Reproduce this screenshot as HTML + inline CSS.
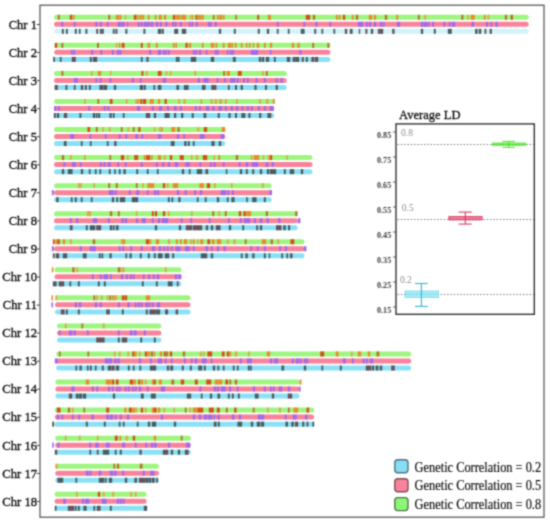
<!DOCTYPE html>
<html><head><meta charset="utf-8"><title>Chromosome LD</title>
<style>
html,body{margin:0;padding:0;background:#fff;width:550px;height:523px;overflow:hidden}
svg{display:block}
text{font-family:"Liberation Serif","Times New Roman",serif}
.lab{font-size:13.5px;fill:#111;stroke:#111;stroke-width:0.35px}
.title{font-size:13.5px;fill:#111;stroke:#111;stroke-width:0.3px}
.tick{font-size:8.1px;font-weight:bold;fill:#3a3a3a}
.vl{font-size:9.6px;fill:#8e8e8e}
.leg{font-size:13.75px;fill:#111;stroke:#111;stroke-width:0.2px}
</style></head><body>
<svg width="550" height="523" viewBox="0 0 550 523"><defs><filter id="bl" x="0" y="0" width="550" height="523" filterUnits="userSpaceOnUse" color-interpolation-filters="sRGB"><feConvolveMatrix order="3" kernelMatrix="0.0400 0.1200 0.0400 0.1200 0.3600 0.1200 0.0400 0.1200 0.0400" divisor="1" edgeMode="duplicate"/></filter></defs><g filter="url(#bl)"><rect x="0" y="0" width="550" height="523" fill="#fff"/><rect x="40" y="5.2" width="504" height="512" fill="none" stroke="#505050" stroke-width="1.2"/><text transform="translate(37.0,28.6) scale(0.935,1)" class="lab" text-anchor="end">Chr 1</text><line x1="36.6" x2="40" y1="24.5" y2="24.5" stroke="#4a4a4a" stroke-width="1"/><rect x="54" y="14.80" width="474.7" height="5.0" rx="2.5" fill="#9ef67f"/><rect x="57.80" y="14.80" width="2.00" height="5.0" fill="#b87230"/><rect x="69.80" y="14.80" width="2.40" height="5.0" fill="#d2501a"/><rect x="72.80" y="14.80" width="1.80" height="5.0" fill="#e58d2c"/><rect x="108.20" y="14.80" width="2.00" height="5.0" fill="#b87230"/><rect x="115.80" y="14.80" width="3.40" height="5.0" fill="#e58d2c"/><rect x="119.40" y="14.80" width="2.00" height="5.0" fill="#e58d2c"/><rect x="124.80" y="14.80" width="1.40" height="5.0" fill="#dca850"/><rect x="133.80" y="14.80" width="2.40" height="5.0" fill="#d2501a"/><rect x="136.20" y="14.80" width="2.00" height="5.0" fill="#e58d2c"/><rect x="138.80" y="14.80" width="1.80" height="5.0" fill="#e58d2c"/><rect x="140.80" y="14.80" width="1.80" height="5.0" fill="#e58d2c"/><rect x="142.80" y="14.80" width="1.40" height="5.0" fill="#e58d2c"/><rect x="147.80" y="14.80" width="1.80" height="5.0" fill="#e58d2c"/><rect x="154.80" y="14.80" width="1.80" height="5.0" fill="#e58d2c"/><rect x="158.80" y="14.80" width="1.40" height="5.0" fill="#e58d2c"/><rect x="159.80" y="14.80" width="2.00" height="5.0" fill="#e58d2c"/><rect x="163.80" y="14.80" width="2.40" height="5.0" fill="#e58d2c"/><rect x="172.80" y="14.80" width="2.40" height="5.0" fill="#d2501a"/><rect x="175.40" y="14.80" width="4.80" height="5.0" fill="#e58d2c"/><rect x="180.80" y="14.80" width="5.40" height="5.0" fill="#e58d2c"/><rect x="189.80" y="14.80" width="1.40" height="5.0" fill="#dca850"/><rect x="191.80" y="14.80" width="1.40" height="5.0" fill="#e58d2c"/><rect x="195.40" y="14.80" width="1.80" height="5.0" fill="#d2501a"/><rect x="197.40" y="14.80" width="3.80" height="5.0" fill="#e58d2c"/><rect x="201.40" y="14.80" width="2.40" height="5.0" fill="#e58d2c"/><rect x="212.80" y="14.80" width="1.80" height="5.0" fill="#b87230"/><rect x="216.80" y="14.80" width="1.80" height="5.0" fill="#e58d2c"/><rect x="219.20" y="14.80" width="3.00" height="5.0" fill="#e58d2c"/><rect x="222.80" y="14.80" width="1.80" height="5.0" fill="#e58d2c"/><rect x="235.40" y="14.80" width="1.60" height="5.0" fill="#b87230"/><rect x="257.20" y="14.80" width="2.00" height="5.0" fill="#d2501a"/><rect x="267.80" y="14.80" width="2.40" height="5.0" fill="#e58d2c"/><rect x="269.80" y="14.80" width="1.20" height="5.0" fill="#e58d2c"/><rect x="305.80" y="14.80" width="4.40" height="5.0" fill="#d2501a"/><rect x="312.80" y="14.80" width="2.40" height="5.0" fill="#b87230"/><rect x="335.80" y="14.80" width="2.00" height="5.0" fill="#e58d2c"/><rect x="338.80" y="14.80" width="1.80" height="5.0" fill="#e58d2c"/><rect x="342.80" y="14.80" width="2.40" height="5.0" fill="#d2501a"/><rect x="351.80" y="14.80" width="1.80" height="5.0" fill="#e58d2c"/><rect x="355.80" y="14.80" width="2.40" height="5.0" fill="#b87230"/><rect x="368.80" y="14.80" width="3.40" height="5.0" fill="#e58d2c"/><rect x="373.80" y="14.80" width="2.40" height="5.0" fill="#e58d2c"/><rect x="384.80" y="14.80" width="2.40" height="5.0" fill="#b87230"/><rect x="396.20" y="14.80" width="2.00" height="5.0" fill="#e58d2c"/><rect x="417.80" y="14.80" width="2.00" height="5.0" fill="#b87230"/><rect x="424.20" y="14.80" width="2.00" height="5.0" fill="#dca850"/><rect x="461.25" y="14.80" width="2.15" height="5.0" fill="#b87230"/><rect x="467.07" y="14.80" width="1.85" height="5.0" fill="#dca850"/><rect x="470.71" y="14.80" width="4.04" height="5.0" fill="#e58d2c"/><rect x="483.80" y="14.80" width="1.85" height="5.0" fill="#e58d2c"/><rect x="487.44" y="14.80" width="1.85" height="5.0" fill="#dca850"/><rect x="504.89" y="14.80" width="2.15" height="5.0" fill="#b87230"/><rect x="510.71" y="14.80" width="2.15" height="5.0" fill="#d2501a"/><rect x="54" y="21.80" width="474.7" height="5.0" rx="2.5" fill="#fa829a"/><rect x="61.20" y="21.80" width="2.00" height="5.0" fill="#9c6cee"/><rect x="73.80" y="21.80" width="1.80" height="5.0" fill="#9c6cee"/><rect x="95.40" y="21.80" width="2.00" height="5.0" fill="#9c6cee"/><rect x="99.80" y="21.80" width="2.00" height="5.0" fill="#9c6cee"/><rect x="106.80" y="21.80" width="1.80" height="5.0" fill="#9c6cee"/><rect x="117.80" y="21.80" width="2.40" height="5.0" fill="#9c6cee"/><rect x="120.20" y="21.80" width="2.40" height="5.0" fill="#9c6cee"/><rect x="122.80" y="21.80" width="1.80" height="5.0" fill="#9c6cee"/><rect x="126.80" y="21.80" width="1.40" height="5.0" fill="#9c6cee"/><rect x="137.80" y="21.80" width="1.80" height="5.0" fill="#9c6cee"/><rect x="140.80" y="21.80" width="1.80" height="5.0" fill="#9c6cee"/><rect x="143.80" y="21.80" width="2.00" height="5.0" fill="#9c6cee"/><rect x="145.80" y="21.80" width="2.40" height="5.0" fill="#9c6cee"/><rect x="148.40" y="21.80" width="1.80" height="5.0" fill="#9c6cee"/><rect x="150.80" y="21.80" width="2.40" height="5.0" fill="#9c6cee"/><rect x="155.80" y="21.80" width="2.40" height="5.0" fill="#9c6cee"/><rect x="159.80" y="21.80" width="2.00" height="5.0" fill="#9c6cee"/><rect x="165.40" y="21.80" width="2.00" height="5.0" fill="#9c6cee"/><rect x="172.20" y="21.80" width="2.00" height="5.0" fill="#9c6cee"/><rect x="174.80" y="21.80" width="1.80" height="5.0" fill="#9c6cee"/><rect x="179.80" y="21.80" width="2.00" height="5.0" fill="#9c6cee"/><rect x="188.80" y="21.80" width="1.80" height="5.0" fill="#9c6cee"/><rect x="191.40" y="21.80" width="1.80" height="5.0" fill="#9c6cee"/><rect x="195.80" y="21.80" width="2.00" height="5.0" fill="#9c6cee"/><rect x="207.80" y="21.80" width="2.00" height="5.0" fill="#9c6cee"/><rect x="210.20" y="21.80" width="1.60" height="5.0" fill="#9c6cee"/><rect x="214.80" y="21.80" width="2.00" height="5.0" fill="#9c6cee"/><rect x="276.80" y="21.80" width="1.80" height="5.0" fill="#9c6cee"/><rect x="303.40" y="21.80" width="1.80" height="5.0" fill="#9c6cee"/><rect x="315.40" y="21.80" width="2.00" height="5.0" fill="#9c6cee"/><rect x="329.40" y="21.80" width="1.80" height="5.0" fill="#9c6cee"/><rect x="357.80" y="21.80" width="5.40" height="5.0" fill="#9c6cee"/><rect x="365.80" y="21.80" width="2.00" height="5.0" fill="#9c6cee"/><rect x="368.80" y="21.80" width="2.40" height="5.0" fill="#9c6cee"/><rect x="373.80" y="21.80" width="2.40" height="5.0" fill="#9c6cee"/><rect x="379.80" y="21.80" width="2.40" height="5.0" fill="#9c6cee"/><rect x="382.80" y="21.80" width="1.80" height="5.0" fill="#9c6cee"/><rect x="396.80" y="21.80" width="3.40" height="5.0" fill="#9c6cee"/><rect x="420.80" y="21.80" width="2.40" height="5.0" fill="#9c6cee"/><rect x="423.40" y="21.80" width="3.80" height="5.0" fill="#9c6cee"/><rect x="427.80" y="21.80" width="1.80" height="5.0" fill="#9c6cee"/><rect x="432.20" y="21.80" width="2.00" height="5.0" fill="#9c6cee"/><rect x="443.40" y="21.80" width="1.80" height="5.0" fill="#9c6cee"/><rect x="448.80" y="21.80" width="1.80" height="5.0" fill="#9c6cee"/><rect x="451.80" y="21.80" width="3.40" height="5.0" fill="#9c6cee"/><rect x="471.44" y="21.80" width="2.58" height="5.0" fill="#9c6cee"/><rect x="485.98" y="21.80" width="2.15" height="5.0" fill="#9c6cee"/><rect x="490.35" y="21.80" width="1.85" height="5.0" fill="#9c6cee"/><rect x="495.44" y="21.80" width="2.29" height="5.0" fill="#9c6cee"/><rect x="54" y="28.85" width="474.7" height="5.0" rx="2.5" fill="#d3f2fa"/><rect x="61.80" y="28.85" width="2.00" height="5.0" fill="#4e5c60"/><rect x="65.80" y="28.85" width="2.00" height="5.0" fill="#4e5c60"/><rect x="74.80" y="28.85" width="2.00" height="5.0" fill="#4e5c60"/><rect x="78.80" y="28.85" width="1.80" height="5.0" fill="#4e5c60"/><rect x="85.40" y="28.85" width="2.00" height="5.0" fill="#4e5c60"/><rect x="96.20" y="28.85" width="2.00" height="5.0" fill="#6a5058"/><rect x="99.80" y="28.85" width="2.00" height="5.0" fill="#4e5c60"/><rect x="101.80" y="28.85" width="2.00" height="5.0" fill="#4e5c60"/><rect x="112.80" y="28.85" width="1.80" height="5.0" fill="#4e5c60"/><rect x="115.40" y="28.85" width="2.00" height="5.0" fill="#4e5c60"/><rect x="125.40" y="28.85" width="2.00" height="5.0" fill="#4e5c60"/><rect x="143.40" y="28.85" width="2.00" height="5.0" fill="#4e5c60"/><rect x="157.80" y="28.85" width="2.40" height="5.0" fill="#4e5c60"/><rect x="159.80" y="28.85" width="1.60" height="5.0" fill="#4e5c60"/><rect x="161.80" y="28.85" width="2.00" height="5.0" fill="#4e5c60"/><rect x="174.20" y="28.85" width="4.00" height="5.0" fill="#4e5c60"/><rect x="181.80" y="28.85" width="4.40" height="5.0" fill="#4e5c60"/><rect x="218.80" y="28.85" width="2.40" height="5.0" fill="#4e5c60"/><rect x="233.80" y="28.85" width="2.00" height="5.0" fill="#4e5c60"/><rect x="257.80" y="28.85" width="2.00" height="5.0" fill="#4e5c60"/><rect x="266.80" y="28.85" width="2.40" height="5.0" fill="#4e5c60"/><rect x="276.80" y="28.85" width="1.80" height="5.0" fill="#4e5c60"/><rect x="287.80" y="28.85" width="1.80" height="5.0" fill="#4e5c60"/><rect x="300.80" y="28.85" width="3.80" height="5.0" fill="#4e5c60"/><rect x="314.20" y="28.85" width="2.00" height="5.0" fill="#4e5c60"/><rect x="321.40" y="28.85" width="1.80" height="5.0" fill="#4e5c60"/><rect x="333.40" y="28.85" width="1.80" height="5.0" fill="#4e5c60"/><rect x="344.80" y="28.85" width="2.40" height="5.0" fill="#6a5058"/><rect x="349.80" y="28.85" width="2.80" height="5.0" fill="#4e5c60"/><rect x="358.80" y="28.85" width="1.40" height="5.0" fill="#4e5c60"/><rect x="365.40" y="28.85" width="2.00" height="5.0" fill="#6a5058"/><rect x="370.80" y="28.85" width="2.40" height="5.0" fill="#4e5c60"/><rect x="377.80" y="28.85" width="2.00" height="5.0" fill="#6a5058"/><rect x="379.80" y="28.85" width="3.40" height="5.0" fill="#6a5058"/><rect x="392.20" y="28.85" width="2.40" height="5.0" fill="#6a5058"/><rect x="420.80" y="28.85" width="2.40" height="5.0" fill="#4e5c60"/><rect x="433.80" y="28.85" width="2.00" height="5.0" fill="#4e5c60"/><rect x="447.80" y="28.85" width="4.00" height="5.0" fill="#4e5c60"/><rect x="475.07" y="28.85" width="2.58" height="5.0" fill="#4e5c60"/><rect x="478.71" y="28.85" width="2.58" height="5.0" fill="#4e5c60"/><rect x="484.53" y="28.85" width="1.85" height="5.0" fill="#4e5c60"/><rect x="489.62" y="28.85" width="2.29" height="5.0" fill="#6a5058"/><text transform="translate(37.0,56.7) scale(0.935,1)" class="lab" text-anchor="end">Chr 2</text><line x1="36.6" x2="40" y1="52.6" y2="52.6" stroke="#4a4a4a" stroke-width="1"/><rect x="54.3" y="42.86" width="276.1" height="5.0" rx="2.5" fill="#9ef67f"/><rect x="54.80" y="42.86" width="2.40" height="5.0" fill="#d2501a"/><rect x="61.40" y="42.86" width="2.00" height="5.0" fill="#b87230"/><rect x="97.00" y="42.86" width="2.00" height="5.0" fill="#b87230"/><rect x="115.80" y="42.86" width="1.60" height="5.0" fill="#dca850"/><rect x="118.80" y="42.86" width="1.80" height="5.0" fill="#e58d2c"/><rect x="121.80" y="42.86" width="2.80" height="5.0" fill="#d2501a"/><rect x="140.80" y="42.86" width="2.00" height="5.0" fill="#d2501a"/><rect x="147.40" y="42.86" width="1.40" height="5.0" fill="#e58d2c"/><rect x="148.80" y="42.86" width="1.40" height="5.0" fill="#e58d2c"/><rect x="155.80" y="42.86" width="2.00" height="5.0" fill="#e58d2c"/><rect x="172.80" y="42.86" width="1.80" height="5.0" fill="#e58d2c"/><rect x="175.40" y="42.86" width="1.60" height="5.0" fill="#e58d2c"/><rect x="185.40" y="42.86" width="2.40" height="5.0" fill="#d2501a"/><rect x="188.80" y="42.86" width="2.40" height="5.0" fill="#e58d2c"/><rect x="201.80" y="42.86" width="1.80" height="5.0" fill="#e58d2c"/><rect x="210.80" y="42.86" width="3.40" height="5.0" fill="#e58d2c"/><rect x="215.40" y="42.86" width="1.80" height="5.0" fill="#e58d2c"/><rect x="222.80" y="42.86" width="1.80" height="5.0" fill="#e58d2c"/><rect x="227.80" y="42.86" width="3.40" height="5.0" fill="#e58d2c"/><rect x="231.40" y="42.86" width="1.80" height="5.0" fill="#e58d2c"/><rect x="234.80" y="42.86" width="1.80" height="5.0" fill="#e58d2c"/><rect x="240.80" y="42.86" width="1.80" height="5.0" fill="#e58d2c"/><rect x="245.80" y="42.86" width="1.60" height="5.0" fill="#e58d2c"/><rect x="248.80" y="42.86" width="1.80" height="5.0" fill="#e58d2c"/><rect x="252.80" y="42.86" width="1.40" height="5.0" fill="#e58d2c"/><rect x="256.80" y="42.86" width="2.40" height="5.0" fill="#e58d2c"/><rect x="263.80" y="42.86" width="2.00" height="5.0" fill="#e58d2c"/><rect x="269.80" y="42.86" width="2.40" height="5.0" fill="#e58d2c"/><rect x="291.80" y="42.86" width="2.40" height="5.0" fill="#e58d2c"/><rect x="297.40" y="42.86" width="2.40" height="5.0" fill="#e58d2c"/><rect x="312.20" y="42.86" width="2.00" height="5.0" fill="#b87230"/><rect x="327.40" y="42.86" width="2.00" height="5.0" fill="#b87230"/><rect x="54.3" y="49.86" width="276.1" height="5.0" rx="2.5" fill="#fa829a"/><rect x="70.80" y="49.86" width="1.80" height="5.0" fill="#9c6cee"/><rect x="73.40" y="49.86" width="1.80" height="5.0" fill="#9c6cee"/><rect x="91.20" y="49.86" width="2.00" height="5.0" fill="#9c6cee"/><rect x="100.40" y="49.86" width="1.80" height="5.0" fill="#9c6cee"/><rect x="111.80" y="49.86" width="2.00" height="5.0" fill="#9c6cee"/><rect x="116.80" y="49.86" width="2.40" height="5.0" fill="#9c6cee"/><rect x="119.40" y="49.86" width="2.00" height="5.0" fill="#9c6cee"/><rect x="149.20" y="49.86" width="2.00" height="5.0" fill="#9c6cee"/><rect x="157.80" y="49.86" width="2.40" height="5.0" fill="#9c6cee"/><rect x="159.80" y="49.86" width="1.40" height="5.0" fill="#9c6cee"/><rect x="162.80" y="49.86" width="1.80" height="5.0" fill="#9c6cee"/><rect x="164.80" y="49.86" width="1.80" height="5.0" fill="#9c6cee"/><rect x="167.80" y="49.86" width="2.00" height="5.0" fill="#9c6cee"/><rect x="192.80" y="49.86" width="1.80" height="5.0" fill="#9c6cee"/><rect x="195.40" y="49.86" width="1.80" height="5.0" fill="#9c6cee"/><rect x="198.80" y="49.86" width="2.40" height="5.0" fill="#9c6cee"/><rect x="205.80" y="49.86" width="1.60" height="5.0" fill="#9c6cee"/><rect x="214.80" y="49.86" width="1.80" height="5.0" fill="#9c6cee"/><rect x="216.80" y="49.86" width="1.80" height="5.0" fill="#9c6cee"/><rect x="226.80" y="49.86" width="1.80" height="5.0" fill="#9c6cee"/><rect x="229.80" y="49.86" width="2.00" height="5.0" fill="#9c6cee"/><rect x="232.20" y="49.86" width="2.00" height="5.0" fill="#9c6cee"/><rect x="250.80" y="49.86" width="7.40" height="5.0" fill="#9c6cee"/><rect x="269.80" y="49.86" width="1.60" height="5.0" fill="#9c6cee"/><rect x="299.40" y="49.86" width="2.00" height="5.0" fill="#9c6cee"/><rect x="54.3" y="56.91" width="276.1" height="5.0" rx="2.5" fill="#8ae1f6"/><rect x="53.20" y="56.91" width="1.80" height="5.0" fill="#4e5c60"/><rect x="59.80" y="56.91" width="1.80" height="5.0" fill="#4e5c60"/><rect x="71.80" y="56.91" width="4.00" height="5.0" fill="#6a5058"/><rect x="89.80" y="56.91" width="2.00" height="5.0" fill="#4e5c60"/><rect x="92.80" y="56.91" width="4.40" height="5.0" fill="#6a5058"/><rect x="140.80" y="56.91" width="1.80" height="5.0" fill="#4e5c60"/><rect x="146.40" y="56.91" width="2.20" height="5.0" fill="#6a5058"/><rect x="175.80" y="56.91" width="2.00" height="5.0" fill="#4e5c60"/><rect x="177.80" y="56.91" width="1.80" height="5.0" fill="#4e5c60"/><rect x="190.80" y="56.91" width="5.40" height="5.0" fill="#4e5c60"/><rect x="210.80" y="56.91" width="3.40" height="5.0" fill="#4e5c60"/><rect x="232.80" y="56.91" width="3.00" height="5.0" fill="#4e5c60"/><rect x="258.80" y="56.91" width="2.40" height="5.0" fill="#4e5c60"/><rect x="261.80" y="56.91" width="2.40" height="5.0" fill="#4e5c60"/><rect x="265.80" y="56.91" width="3.40" height="5.0" fill="#4e5c60"/><rect x="273.80" y="56.91" width="2.00" height="5.0" fill="#4e5c60"/><rect x="286.80" y="56.91" width="3.40" height="5.0" fill="#4e5c60"/><rect x="292.80" y="56.91" width="3.00" height="5.0" fill="#4e5c60"/><rect x="295.80" y="56.91" width="3.40" height="5.0" fill="#4e5c60"/><rect x="301.80" y="56.91" width="2.00" height="5.0" fill="#4e5c60"/><rect x="305.80" y="56.91" width="2.00" height="5.0" fill="#4e5c60"/><rect x="311.40" y="56.91" width="2.80" height="5.0" fill="#6a5058"/><rect x="314.80" y="56.91" width="3.40" height="5.0" fill="#6a5058"/><text transform="translate(37.0,84.7) scale(0.935,1)" class="lab" text-anchor="end">Chr 3</text><line x1="36.6" x2="40" y1="80.6" y2="80.6" stroke="#4a4a4a" stroke-width="1"/><rect x="54" y="70.91" width="232.7" height="5.0" rx="2.5" fill="#9ef67f"/><rect x="61.40" y="70.91" width="2.00" height="5.0" fill="#b87230"/><rect x="90.80" y="70.91" width="1.80" height="5.0" fill="#dca850"/><rect x="97.80" y="70.91" width="3.40" height="5.0" fill="#e58d2c"/><rect x="109.80" y="70.91" width="1.60" height="5.0" fill="#dca850"/><rect x="141.40" y="70.91" width="2.00" height="5.0" fill="#d2501a"/><rect x="145.80" y="70.91" width="1.80" height="5.0" fill="#dca850"/><rect x="157.80" y="70.91" width="2.40" height="5.0" fill="#d2501a"/><rect x="159.80" y="70.91" width="1.82" height="5.0" fill="#d2501a"/><rect x="165.71" y="70.91" width="1.58" height="5.0" fill="#dca850"/><rect x="169.73" y="70.91" width="1.82" height="5.0" fill="#dca850"/><rect x="194.07" y="70.91" width="2.05" height="5.0" fill="#dca850"/><rect x="223.15" y="70.91" width="1.82" height="5.0" fill="#b87230"/><rect x="226.45" y="70.91" width="3.47" height="5.0" fill="#e58d2c"/><rect x="237.80" y="70.91" width="3.95" height="5.0" fill="#d2501a"/><rect x="261.91" y="70.91" width="1.82" height="5.0" fill="#dca850"/><rect x="265.69" y="70.91" width="2.05" height="5.0" fill="#b87230"/><rect x="54" y="77.91" width="232.7" height="5.0" rx="2.5" fill="#fa829a"/><rect x="73.80" y="77.91" width="4.00" height="5.0" fill="#9c6cee"/><rect x="95.40" y="77.91" width="1.80" height="5.0" fill="#9c6cee"/><rect x="99.80" y="77.91" width="1.80" height="5.0" fill="#9c6cee"/><rect x="109.40" y="77.91" width="2.00" height="5.0" fill="#9c6cee"/><rect x="131.80" y="77.91" width="2.00" height="5.0" fill="#9c6cee"/><rect x="139.80" y="77.91" width="1.80" height="5.0" fill="#9c6cee"/><rect x="162.64" y="77.91" width="3.47" height="5.0" fill="#9c6cee"/><rect x="197.62" y="77.91" width="2.29" height="5.0" fill="#9c6cee"/><rect x="203.53" y="77.91" width="5.13" height="5.0" fill="#9c6cee"/><rect x="216.53" y="77.91" width="1.82" height="5.0" fill="#9c6cee"/><rect x="224.09" y="77.91" width="1.82" height="5.0" fill="#9c6cee"/><rect x="230.24" y="77.91" width="5.13" height="5.0" fill="#9c6cee"/><rect x="236.62" y="77.91" width="2.05" height="5.0" fill="#9c6cee"/><rect x="243.00" y="77.91" width="1.82" height="5.0" fill="#9c6cee"/><rect x="246.78" y="77.91" width="2.05" height="5.0" fill="#9c6cee"/><rect x="255.53" y="77.91" width="2.05" height="5.0" fill="#9c6cee"/><rect x="263.80" y="77.91" width="2.05" height="5.0" fill="#9c6cee"/><rect x="275.62" y="77.91" width="2.05" height="5.0" fill="#9c6cee"/><rect x="280.35" y="77.91" width="2.29" height="5.0" fill="#9c6cee"/><rect x="54" y="84.96" width="232.7" height="5.0" rx="2.5" fill="#8ae1f6"/><rect x="54.80" y="84.96" width="3.00" height="5.0" fill="#6a5058"/><rect x="65.40" y="84.96" width="2.00" height="5.0" fill="#4e5c60"/><rect x="73.80" y="84.96" width="1.80" height="5.0" fill="#4e5c60"/><rect x="80.80" y="84.96" width="2.40" height="5.0" fill="#6a5058"/><rect x="84.80" y="84.96" width="2.00" height="5.0" fill="#6a5058"/><rect x="88.80" y="84.96" width="2.00" height="5.0" fill="#4e5c60"/><rect x="99.40" y="84.96" width="3.80" height="5.0" fill="#4e5c60"/><rect x="103.40" y="84.96" width="3.80" height="5.0" fill="#4e5c60"/><rect x="113.80" y="84.96" width="2.40" height="5.0" fill="#4e5c60"/><rect x="139.80" y="84.96" width="3.40" height="5.0" fill="#4e5c60"/><rect x="143.80" y="84.96" width="2.00" height="5.0" fill="#4e5c60"/><rect x="153.40" y="84.96" width="1.80" height="5.0" fill="#4e5c60"/><rect x="157.80" y="84.96" width="2.40" height="5.0" fill="#4e5c60"/><rect x="159.80" y="84.96" width="1.58" height="5.0" fill="#4e5c60"/><rect x="176.35" y="84.96" width="2.76" height="5.0" fill="#4e5c60"/><rect x="183.91" y="84.96" width="4.65" height="5.0" fill="#4e5c60"/><rect x="201.87" y="84.96" width="3.71" height="5.0" fill="#4e5c60"/><rect x="211.33" y="84.96" width="5.13" height="5.0" fill="#6a5058"/><rect x="227.87" y="84.96" width="1.82" height="5.0" fill="#4e5c60"/><rect x="234.96" y="84.96" width="2.05" height="5.0" fill="#4e5c60"/><rect x="240.64" y="84.96" width="2.29" height="5.0" fill="#4e5c60"/><rect x="254.35" y="84.96" width="2.29" height="5.0" fill="#4e5c60"/><rect x="264.98" y="84.96" width="2.05" height="5.0" fill="#4e5c60"/><rect x="275.62" y="84.96" width="2.29" height="5.0" fill="#4e5c60"/><text transform="translate(37.0,112.8) scale(0.935,1)" class="lab" text-anchor="end">Chr 4</text><line x1="36.6" x2="40" y1="108.7" y2="108.7" stroke="#4a4a4a" stroke-width="1"/><rect x="54" y="98.97" width="220.2" height="5.0" rx="2.5" fill="#9ef67f"/><rect x="84.20" y="98.97" width="1.60" height="5.0" fill="#dca850"/><rect x="97.40" y="98.97" width="1.80" height="5.0" fill="#b87230"/><rect x="109.80" y="98.97" width="2.80" height="5.0" fill="#d2501a"/><rect x="125.80" y="98.97" width="1.60" height="5.0" fill="#dca850"/><rect x="135.40" y="98.97" width="1.80" height="5.0" fill="#dca850"/><rect x="137.40" y="98.97" width="1.80" height="5.0" fill="#e58d2c"/><rect x="140.20" y="98.97" width="2.00" height="5.0" fill="#d2501a"/><rect x="142.80" y="98.97" width="3.40" height="5.0" fill="#d2501a"/><rect x="149.80" y="98.97" width="4.00" height="5.0" fill="#e58d2c"/><rect x="157.80" y="98.97" width="2.40" height="5.0" fill="#e58d2c"/><rect x="164.53" y="98.97" width="2.29" height="5.0" fill="#d2501a"/><rect x="178.24" y="98.97" width="1.82" height="5.0" fill="#dca850"/><rect x="183.44" y="98.97" width="2.29" height="5.0" fill="#dca850"/><rect x="200.45" y="98.97" width="1.82" height="5.0" fill="#dca850"/><rect x="210.62" y="98.97" width="2.05" height="5.0" fill="#dca850"/><rect x="214.64" y="98.97" width="2.29" height="5.0" fill="#dca850"/><rect x="218.89" y="98.97" width="3.24" height="5.0" fill="#dca850"/><rect x="224.80" y="98.97" width="2.05" height="5.0" fill="#dca850"/><rect x="235.91" y="98.97" width="1.82" height="5.0" fill="#dca850"/><rect x="259.07" y="98.97" width="1.82" height="5.0" fill="#dca850"/><rect x="266.16" y="98.97" width="2.29" height="5.0" fill="#dca850"/><rect x="272.78" y="98.97" width="2.05" height="5.0" fill="#e58d2c"/><rect x="54" y="105.97" width="220.2" height="5.0" rx="2.5" fill="#fa829a"/><rect x="54.20" y="105.97" width="2.00" height="5.0" fill="#9c6cee"/><rect x="57.80" y="105.97" width="2.00" height="5.0" fill="#9c6cee"/><rect x="88.20" y="105.97" width="2.00" height="5.0" fill="#9c6cee"/><rect x="103.80" y="105.97" width="2.00" height="5.0" fill="#9c6cee"/><rect x="107.40" y="105.97" width="1.80" height="5.0" fill="#9c6cee"/><rect x="136.80" y="105.97" width="3.40" height="5.0" fill="#9c6cee"/><rect x="151.80" y="105.97" width="2.00" height="5.0" fill="#9c6cee"/><rect x="158.80" y="105.97" width="1.40" height="5.0" fill="#9c6cee"/><rect x="159.80" y="105.97" width="2.29" height="5.0" fill="#9c6cee"/><rect x="166.89" y="105.97" width="2.29" height="5.0" fill="#9c6cee"/><rect x="173.98" y="105.97" width="2.76" height="5.0" fill="#9c6cee"/><rect x="179.89" y="105.97" width="2.05" height="5.0" fill="#9c6cee"/><rect x="194.78" y="105.97" width="2.05" height="5.0" fill="#9c6cee"/><rect x="198.80" y="105.97" width="2.05" height="5.0" fill="#9c6cee"/><rect x="205.89" y="105.97" width="3.47" height="5.0" fill="#9c6cee"/><rect x="212.27" y="105.97" width="2.29" height="5.0" fill="#9c6cee"/><rect x="218.42" y="105.97" width="3.71" height="5.0" fill="#9c6cee"/><rect x="224.80" y="105.97" width="2.05" height="5.0" fill="#9c6cee"/><rect x="230.71" y="105.97" width="2.29" height="5.0" fill="#9c6cee"/><rect x="235.91" y="105.97" width="2.29" height="5.0" fill="#9c6cee"/><rect x="241.35" y="105.97" width="2.05" height="5.0" fill="#9c6cee"/><rect x="246.78" y="105.97" width="2.05" height="5.0" fill="#9c6cee"/><rect x="250.80" y="105.97" width="2.05" height="5.0" fill="#9c6cee"/><rect x="257.89" y="105.97" width="2.05" height="5.0" fill="#9c6cee"/><rect x="263.80" y="105.97" width="2.05" height="5.0" fill="#9c6cee"/><rect x="269.71" y="105.97" width="3.95" height="5.0" fill="#9c6cee"/><rect x="54" y="113.02" width="220.2" height="5.0" rx="2.5" fill="#8ae1f6"/><rect x="53.80" y="113.02" width="2.00" height="5.0" fill="#4e5c60"/><rect x="56.80" y="113.02" width="2.40" height="5.0" fill="#4e5c60"/><rect x="63.80" y="113.02" width="3.40" height="5.0" fill="#6a5058"/><rect x="79.40" y="113.02" width="2.00" height="5.0" fill="#4e5c60"/><rect x="92.80" y="113.02" width="2.40" height="5.0" fill="#4e5c60"/><rect x="95.80" y="113.02" width="1.80" height="5.0" fill="#4e5c60"/><rect x="98.20" y="113.02" width="2.00" height="5.0" fill="#4e5c60"/><rect x="109.40" y="113.02" width="2.40" height="5.0" fill="#4e5c60"/><rect x="112.80" y="113.02" width="1.80" height="5.0" fill="#4e5c60"/><rect x="122.80" y="113.02" width="1.80" height="5.0" fill="#4e5c60"/><rect x="145.80" y="113.02" width="4.40" height="5.0" fill="#6a5058"/><rect x="153.80" y="113.02" width="2.40" height="5.0" fill="#4e5c60"/><rect x="164.53" y="113.02" width="5.13" height="5.0" fill="#4e5c60"/><rect x="173.98" y="113.02" width="2.29" height="5.0" fill="#4e5c60"/><rect x="181.07" y="113.02" width="2.29" height="5.0" fill="#4e5c60"/><rect x="191.71" y="113.02" width="2.05" height="5.0" fill="#4e5c60"/><rect x="203.53" y="113.02" width="2.76" height="5.0" fill="#4e5c60"/><rect x="217.71" y="113.02" width="2.05" height="5.0" fill="#4e5c60"/><rect x="228.35" y="113.02" width="2.29" height="5.0" fill="#4e5c60"/><rect x="234.96" y="113.02" width="2.05" height="5.0" fill="#4e5c60"/><rect x="241.35" y="113.02" width="3.95" height="5.0" fill="#4e5c60"/><rect x="248.44" y="113.02" width="2.05" height="5.0" fill="#4e5c60"/><rect x="259.07" y="113.02" width="2.29" height="5.0" fill="#4e5c60"/><rect x="267.35" y="113.02" width="3.95" height="5.0" fill="#4e5c60"/><text transform="translate(37.0,140.8) scale(0.935,1)" class="lab" text-anchor="end">Chr 5</text><line x1="36.6" x2="40" y1="136.7" y2="136.7" stroke="#4a4a4a" stroke-width="1"/><rect x="54" y="127.03" width="171.3" height="5.0" rx="2.5" fill="#9ef67f"/><rect x="87.40" y="127.03" width="2.80" height="5.0" fill="#d2501a"/><rect x="95.80" y="127.03" width="2.00" height="5.0" fill="#b87230"/><rect x="102.20" y="127.03" width="1.60" height="5.0" fill="#dca850"/><rect x="108.80" y="127.03" width="1.80" height="5.0" fill="#dca850"/><rect x="120.80" y="127.03" width="1.80" height="5.0" fill="#b87230"/><rect x="127.40" y="127.03" width="1.80" height="5.0" fill="#dca850"/><rect x="132.80" y="127.03" width="1.80" height="5.0" fill="#b87230"/><rect x="138.20" y="127.03" width="2.40" height="5.0" fill="#d2501a"/><rect x="153.80" y="127.03" width="1.60" height="5.0" fill="#dca850"/><rect x="158.80" y="127.03" width="1.40" height="5.0" fill="#dca850"/><rect x="160.80" y="127.03" width="1.80" height="5.0" fill="#e58d2c"/><rect x="171.40" y="127.03" width="3.80" height="5.0" fill="#e58d2c"/><rect x="177.40" y="127.03" width="2.40" height="5.0" fill="#b87230"/><rect x="197.40" y="127.03" width="1.80" height="5.0" fill="#dca850"/><rect x="203.80" y="127.03" width="3.40" height="5.0" fill="#d2501a"/><rect x="221.80" y="127.03" width="3.40" height="5.0" fill="#e58d2c"/><rect x="54" y="134.03" width="171.3" height="5.0" rx="2.5" fill="#fa829a"/><rect x="70.20" y="134.03" width="4.00" height="5.0" fill="#9c6cee"/><rect x="89.40" y="134.03" width="1.80" height="5.0" fill="#9c6cee"/><rect x="104.80" y="134.03" width="1.80" height="5.0" fill="#9c6cee"/><rect x="118.80" y="134.03" width="1.80" height="5.0" fill="#9c6cee"/><rect x="125.40" y="134.03" width="1.80" height="5.0" fill="#9c6cee"/><rect x="135.40" y="134.03" width="2.80" height="5.0" fill="#9c6cee"/><rect x="141.40" y="134.03" width="1.80" height="5.0" fill="#9c6cee"/><rect x="157.80" y="134.03" width="2.00" height="5.0" fill="#9c6cee"/><rect x="159.80" y="134.03" width="1.60" height="5.0" fill="#9c6cee"/><rect x="176.80" y="134.03" width="2.40" height="5.0" fill="#9c6cee"/><rect x="183.40" y="134.03" width="1.80" height="5.0" fill="#9c6cee"/><rect x="199.80" y="134.03" width="4.80" height="5.0" fill="#9c6cee"/><rect x="220.80" y="134.03" width="3.40" height="5.0" fill="#9c6cee"/><rect x="54" y="141.08" width="171.3" height="5.0" rx="2.5" fill="#8ae1f6"/><rect x="63.80" y="141.08" width="2.80" height="5.0" fill="#4e5c60"/><rect x="80.80" y="141.08" width="1.80" height="5.0" fill="#4e5c60"/><rect x="89.80" y="141.08" width="1.80" height="5.0" fill="#4e5c60"/><rect x="106.80" y="141.08" width="1.80" height="5.0" fill="#4e5c60"/><rect x="114.20" y="141.08" width="2.40" height="5.0" fill="#6a5058"/><rect x="170.80" y="141.08" width="3.80" height="5.0" fill="#4e5c60"/><rect x="184.20" y="141.08" width="2.40" height="5.0" fill="#4e5c60"/><rect x="187.80" y="141.08" width="2.00" height="5.0" fill="#4e5c60"/><rect x="192.80" y="141.08" width="1.80" height="5.0" fill="#4e5c60"/><rect x="211.40" y="141.08" width="3.20" height="5.0" fill="#4e5c60"/><rect x="218.80" y="141.08" width="2.40" height="5.0" fill="#4e5c60"/><text transform="translate(37.0,168.9) scale(0.935,1)" class="lab" text-anchor="end">Chr 6</text><line x1="36.6" x2="40" y1="164.8" y2="164.8" stroke="#4a4a4a" stroke-width="1"/><rect x="54" y="155.09" width="258.5" height="5.0" rx="2.5" fill="#9ef67f"/><rect x="61.80" y="155.09" width="2.40" height="5.0" fill="#b87230"/><rect x="69.80" y="155.09" width="2.00" height="5.0" fill="#dca850"/><rect x="83.80" y="155.09" width="2.00" height="5.0" fill="#dca850"/><rect x="109.40" y="155.09" width="1.80" height="5.0" fill="#b87230"/><rect x="120.80" y="155.09" width="3.40" height="5.0" fill="#d2501a"/><rect x="126.80" y="155.09" width="1.80" height="5.0" fill="#dca850"/><rect x="134.20" y="155.09" width="4.00" height="5.0" fill="#d2501a"/><rect x="143.80" y="155.09" width="2.00" height="5.0" fill="#e58d2c"/><rect x="146.20" y="155.09" width="4.00" height="5.0" fill="#d2501a"/><rect x="150.80" y="155.09" width="1.80" height="5.0" fill="#e58d2c"/><rect x="157.80" y="155.09" width="2.40" height="5.0" fill="#e58d2c"/><rect x="159.80" y="155.09" width="1.40" height="5.0" fill="#e58d2c"/><rect x="163.80" y="155.09" width="2.00" height="5.0" fill="#dca850"/><rect x="169.80" y="155.09" width="2.40" height="5.0" fill="#d2501a"/><rect x="179.80" y="155.09" width="4.00" height="5.0" fill="#d2501a"/><rect x="190.80" y="155.09" width="1.80" height="5.0" fill="#dca850"/><rect x="195.80" y="155.09" width="2.40" height="5.0" fill="#dca850"/><rect x="202.80" y="155.09" width="4.40" height="5.0" fill="#d2501a"/><rect x="213.40" y="155.09" width="1.80" height="5.0" fill="#dca850"/><rect x="218.20" y="155.09" width="2.00" height="5.0" fill="#e58d2c"/><rect x="235.80" y="155.09" width="2.40" height="5.0" fill="#b87230"/><rect x="250.80" y="155.09" width="1.80" height="5.0" fill="#dca850"/><rect x="253.80" y="155.09" width="5.40" height="5.0" fill="#e58d2c"/><rect x="262.80" y="155.09" width="1.40" height="5.0" fill="#dca850"/><rect x="267.80" y="155.09" width="2.00" height="5.0" fill="#dca850"/><rect x="269.80" y="155.09" width="2.40" height="5.0" fill="#d2501a"/><rect x="286.20" y="155.09" width="1.60" height="5.0" fill="#dca850"/><rect x="54" y="162.09" width="258.5" height="5.0" rx="2.5" fill="#fa829a"/><rect x="63.40" y="162.09" width="1.80" height="5.0" fill="#9c6cee"/><rect x="71.80" y="162.09" width="4.00" height="5.0" fill="#9c6cee"/><rect x="79.80" y="162.09" width="1.80" height="5.0" fill="#9c6cee"/><rect x="99.80" y="162.09" width="2.00" height="5.0" fill="#9c6cee"/><rect x="103.40" y="162.09" width="2.00" height="5.0" fill="#9c6cee"/><rect x="107.80" y="162.09" width="2.80" height="5.0" fill="#9c6cee"/><rect x="117.40" y="162.09" width="1.80" height="5.0" fill="#9c6cee"/><rect x="124.80" y="162.09" width="1.80" height="5.0" fill="#9c6cee"/><rect x="140.80" y="162.09" width="1.80" height="5.0" fill="#9c6cee"/><rect x="155.80" y="162.09" width="2.00" height="5.0" fill="#9c6cee"/><rect x="162.20" y="162.09" width="2.00" height="5.0" fill="#9c6cee"/><rect x="167.80" y="162.09" width="2.40" height="5.0" fill="#9c6cee"/><rect x="174.80" y="162.09" width="3.40" height="5.0" fill="#9c6cee"/><rect x="185.40" y="162.09" width="4.40" height="5.0" fill="#9c6cee"/><rect x="199.40" y="162.09" width="1.80" height="5.0" fill="#9c6cee"/><rect x="209.80" y="162.09" width="2.00" height="5.0" fill="#9c6cee"/><rect x="213.40" y="162.09" width="2.40" height="5.0" fill="#9c6cee"/><rect x="222.80" y="162.09" width="1.80" height="5.0" fill="#9c6cee"/><rect x="238.80" y="162.09" width="1.80" height="5.0" fill="#9c6cee"/><rect x="245.80" y="162.09" width="2.40" height="5.0" fill="#9c6cee"/><rect x="251.80" y="162.09" width="2.40" height="5.0" fill="#9c6cee"/><rect x="254.20" y="162.09" width="4.00" height="5.0" fill="#9c6cee"/><rect x="265.80" y="162.09" width="2.40" height="5.0" fill="#9c6cee"/><rect x="271.80" y="162.09" width="2.00" height="5.0" fill="#9c6cee"/><rect x="54" y="169.14" width="258.5" height="5.0" rx="2.5" fill="#8ae1f6"/><rect x="61.80" y="169.14" width="2.40" height="5.0" fill="#4e5c60"/><rect x="67.80" y="169.14" width="4.80" height="5.0" fill="#4e5c60"/><rect x="80.80" y="169.14" width="2.40" height="5.0" fill="#4e5c60"/><rect x="88.80" y="169.14" width="1.80" height="5.0" fill="#4e5c60"/><rect x="94.80" y="169.14" width="1.80" height="5.0" fill="#4e5c60"/><rect x="99.40" y="169.14" width="1.80" height="5.0" fill="#4e5c60"/><rect x="108.80" y="169.14" width="1.80" height="5.0" fill="#4e5c60"/><rect x="114.20" y="169.14" width="1.60" height="5.0" fill="#4e5c60"/><rect x="118.80" y="169.14" width="1.80" height="5.0" fill="#4e5c60"/><rect x="123.40" y="169.14" width="2.40" height="5.0" fill="#4e5c60"/><rect x="136.20" y="169.14" width="2.00" height="5.0" fill="#4e5c60"/><rect x="146.80" y="169.14" width="1.80" height="5.0" fill="#4e5c60"/><rect x="156.80" y="169.14" width="1.80" height="5.0" fill="#4e5c60"/><rect x="181.80" y="169.14" width="2.40" height="5.0" fill="#4e5c60"/><rect x="188.80" y="169.14" width="1.80" height="5.0" fill="#4e5c60"/><rect x="196.80" y="169.14" width="5.40" height="5.0" fill="#4e5c60"/><rect x="205.40" y="169.14" width="2.80" height="5.0" fill="#6a5058"/><rect x="225.80" y="169.14" width="1.60" height="5.0" fill="#4e5c60"/><rect x="239.80" y="169.14" width="2.40" height="5.0" fill="#4e5c60"/><rect x="245.80" y="169.14" width="2.00" height="5.0" fill="#4e5c60"/><rect x="252.20" y="169.14" width="2.00" height="5.0" fill="#4e5c60"/><rect x="259.80" y="169.14" width="2.40" height="5.0" fill="#4e5c60"/><rect x="266.80" y="169.14" width="2.40" height="5.0" fill="#4e5c60"/><rect x="269.80" y="169.14" width="6.40" height="5.0" fill="#4e5c60"/><rect x="283.80" y="169.14" width="2.00" height="5.0" fill="#4e5c60"/><rect x="289.80" y="169.14" width="4.40" height="5.0" fill="#4e5c60"/><rect x="300.80" y="169.14" width="2.40" height="5.0" fill="#4e5c60"/><text transform="translate(37.0,196.9) scale(0.935,1)" class="lab" text-anchor="end">Chr 7</text><line x1="36.6" x2="40" y1="192.8" y2="192.8" stroke="#4a4a4a" stroke-width="1"/><rect x="54" y="183.14" width="217.6" height="5.0" rx="2.5" fill="#9ef67f"/><rect x="77.80" y="183.14" width="4.00" height="5.0" fill="#dca850"/><rect x="93.40" y="183.14" width="1.60" height="5.0" fill="#dca850"/><rect x="108.20" y="183.14" width="2.00" height="5.0" fill="#b87230"/><rect x="115.80" y="183.14" width="2.00" height="5.0" fill="#b87230"/><rect x="135.80" y="183.14" width="1.80" height="5.0" fill="#b87230"/><rect x="142.20" y="183.14" width="1.60" height="5.0" fill="#dca850"/><rect x="147.40" y="183.14" width="6.80" height="5.0" fill="#e58d2c"/><rect x="162.80" y="183.14" width="2.40" height="5.0" fill="#d2501a"/><rect x="166.80" y="183.14" width="1.80" height="5.0" fill="#dca850"/><rect x="172.80" y="183.14" width="5.40" height="5.0" fill="#e58d2c"/><rect x="199.40" y="183.14" width="4.40" height="5.0" fill="#e58d2c"/><rect x="206.80" y="183.14" width="3.40" height="5.0" fill="#d2501a"/><rect x="213.80" y="183.14" width="2.00" height="5.0" fill="#dca850"/><rect x="230.80" y="183.14" width="1.80" height="5.0" fill="#dca850"/><rect x="261.80" y="183.14" width="2.00" height="5.0" fill="#dca850"/><rect x="54" y="190.14" width="217.6" height="5.0" rx="2.5" fill="#fa829a"/><rect x="51.80" y="190.14" width="2.00" height="5.0" fill="#9c6cee"/><rect x="108.80" y="190.14" width="5.00" height="5.0" fill="#9c6cee"/><rect x="114.80" y="190.14" width="2.00" height="5.0" fill="#9c6cee"/><rect x="128.80" y="190.14" width="1.80" height="5.0" fill="#9c6cee"/><rect x="136.20" y="190.14" width="3.00" height="5.0" fill="#9c6cee"/><rect x="146.80" y="190.14" width="1.80" height="5.0" fill="#9c6cee"/><rect x="153.80" y="190.14" width="2.40" height="5.0" fill="#9c6cee"/><rect x="156.80" y="190.14" width="2.40" height="5.0" fill="#9c6cee"/><rect x="176.80" y="190.14" width="2.40" height="5.0" fill="#9c6cee"/><rect x="184.80" y="190.14" width="2.00" height="5.0" fill="#9c6cee"/><rect x="194.20" y="190.14" width="2.00" height="5.0" fill="#9c6cee"/><rect x="199.80" y="190.14" width="2.40" height="5.0" fill="#9c6cee"/><rect x="220.80" y="190.14" width="5.40" height="5.0" fill="#9c6cee"/><rect x="227.40" y="190.14" width="1.80" height="5.0" fill="#9c6cee"/><rect x="231.80" y="190.14" width="2.00" height="5.0" fill="#9c6cee"/><rect x="269.44" y="190.14" width="2.58" height="5.0" fill="#9c6cee"/><rect x="54" y="197.19" width="217.6" height="5.0" rx="2.5" fill="#8ae1f6"/><rect x="56.20" y="197.19" width="2.40" height="5.0" fill="#4e5c60"/><rect x="70.80" y="197.19" width="1.80" height="5.0" fill="#4e5c60"/><rect x="74.80" y="197.19" width="2.00" height="5.0" fill="#4e5c60"/><rect x="80.80" y="197.19" width="1.80" height="5.0" fill="#4e5c60"/><rect x="90.80" y="197.19" width="1.80" height="5.0" fill="#4e5c60"/><rect x="111.80" y="197.19" width="2.40" height="5.0" fill="#4e5c60"/><rect x="116.20" y="197.19" width="2.00" height="5.0" fill="#4e5c60"/><rect x="119.80" y="197.19" width="5.40" height="5.0" fill="#4e5c60"/><rect x="131.80" y="197.19" width="6.40" height="5.0" fill="#4e5c60"/><rect x="167.80" y="197.19" width="2.00" height="5.0" fill="#4e5c60"/><rect x="171.40" y="197.19" width="1.80" height="5.0" fill="#4e5c60"/><rect x="178.20" y="197.19" width="2.40" height="5.0" fill="#4e5c60"/><rect x="196.80" y="197.19" width="1.80" height="5.0" fill="#4e5c60"/><rect x="204.80" y="197.19" width="1.80" height="5.0" fill="#4e5c60"/><rect x="216.80" y="197.19" width="2.40" height="5.0" fill="#4e5c60"/><rect x="226.80" y="197.19" width="1.80" height="5.0" fill="#4e5c60"/><rect x="231.40" y="197.19" width="3.20" height="5.0" fill="#4e5c60"/><rect x="246.20" y="197.19" width="1.60" height="5.0" fill="#4e5c60"/><rect x="252.20" y="197.19" width="4.40" height="5.0" fill="#4e5c60"/><rect x="263.80" y="197.19" width="2.00" height="5.0" fill="#4e5c60"/><text transform="translate(37.0,225.0) scale(0.935,1)" class="lab" text-anchor="end">Chr 8</text><line x1="36.6" x2="40" y1="220.9" y2="220.9" stroke="#4a4a4a" stroke-width="1"/><rect x="54" y="211.20" width="243.8" height="5.0" rx="2.5" fill="#9ef67f"/><rect x="86.80" y="211.20" width="4.40" height="5.0" fill="#dca850"/><rect x="109.80" y="211.20" width="2.40" height="5.0" fill="#b87230"/><rect x="117.80" y="211.20" width="2.00" height="5.0" fill="#b87230"/><rect x="135.80" y="211.20" width="1.60" height="5.0" fill="#dca850"/><rect x="151.80" y="211.20" width="2.00" height="5.0" fill="#d2501a"/><rect x="154.80" y="211.20" width="2.40" height="5.0" fill="#d2501a"/><rect x="162.80" y="211.20" width="2.40" height="5.0" fill="#d2501a"/><rect x="167.80" y="211.20" width="2.00" height="5.0" fill="#dca850"/><rect x="190.80" y="211.20" width="1.80" height="5.0" fill="#dca850"/><rect x="212.20" y="211.20" width="2.00" height="5.0" fill="#b87230"/><rect x="218.20" y="211.20" width="2.00" height="5.0" fill="#dca850"/><rect x="224.80" y="211.20" width="2.00" height="5.0" fill="#b87230"/><rect x="238.80" y="211.20" width="2.40" height="5.0" fill="#d2501a"/><rect x="243.40" y="211.20" width="2.40" height="5.0" fill="#d2501a"/><rect x="246.20" y="211.20" width="5.00" height="5.0" fill="#e58d2c"/><rect x="265.80" y="211.20" width="2.15" height="5.0" fill="#b87230"/><rect x="295.18" y="211.20" width="2.29" height="5.0" fill="#b87230"/><rect x="54" y="218.20" width="243.8" height="5.0" rx="2.5" fill="#fa829a"/><rect x="69.80" y="218.20" width="2.00" height="5.0" fill="#9c6cee"/><rect x="76.20" y="218.20" width="2.00" height="5.0" fill="#9c6cee"/><rect x="92.80" y="218.20" width="4.40" height="5.0" fill="#9c6cee"/><rect x="107.80" y="218.20" width="2.00" height="5.0" fill="#9c6cee"/><rect x="121.40" y="218.20" width="2.40" height="5.0" fill="#9c6cee"/><rect x="124.80" y="218.20" width="2.40" height="5.0" fill="#9c6cee"/><rect x="136.20" y="218.20" width="2.00" height="5.0" fill="#9c6cee"/><rect x="141.80" y="218.20" width="4.00" height="5.0" fill="#9c6cee"/><rect x="151.80" y="218.20" width="2.00" height="5.0" fill="#9c6cee"/><rect x="157.80" y="218.20" width="2.40" height="5.0" fill="#9c6cee"/><rect x="161.80" y="218.20" width="6.40" height="5.0" fill="#9c6cee"/><rect x="180.80" y="218.20" width="1.80" height="5.0" fill="#9c6cee"/><rect x="190.20" y="218.20" width="2.00" height="5.0" fill="#9c6cee"/><rect x="208.80" y="218.20" width="1.80" height="5.0" fill="#9c6cee"/><rect x="227.80" y="218.20" width="2.00" height="5.0" fill="#9c6cee"/><rect x="239.80" y="218.20" width="2.00" height="5.0" fill="#9c6cee"/><rect x="243.80" y="218.20" width="6.40" height="5.0" fill="#9c6cee"/><rect x="253.80" y="218.20" width="2.00" height="5.0" fill="#9c6cee"/><rect x="259.80" y="218.20" width="2.40" height="5.0" fill="#9c6cee"/><rect x="266.53" y="218.20" width="2.29" height="5.0" fill="#9c6cee"/><rect x="278.16" y="218.20" width="2.29" height="5.0" fill="#9c6cee"/><rect x="297.80" y="218.20" width="2.58" height="5.0" fill="#9c6cee"/><rect x="54" y="225.25" width="243.8" height="5.0" rx="2.5" fill="#8ae1f6"/><rect x="69.80" y="225.25" width="2.80" height="5.0" fill="#6a5058"/><rect x="85.80" y="225.25" width="2.00" height="5.0" fill="#4e5c60"/><rect x="89.80" y="225.25" width="5.40" height="5.0" fill="#4e5c60"/><rect x="96.20" y="225.25" width="5.00" height="5.0" fill="#6a5058"/><rect x="109.80" y="225.25" width="2.40" height="5.0" fill="#4e5c60"/><rect x="112.80" y="225.25" width="1.80" height="5.0" fill="#4e5c60"/><rect x="115.80" y="225.25" width="2.80" height="5.0" fill="#4e5c60"/><rect x="154.80" y="225.25" width="2.40" height="5.0" fill="#4e5c60"/><rect x="178.80" y="225.25" width="2.40" height="5.0" fill="#4e5c60"/><rect x="185.80" y="225.25" width="6.40" height="5.0" fill="#6a5058"/><rect x="192.80" y="225.25" width="9.40" height="5.0" fill="#6a5058"/><rect x="205.80" y="225.25" width="2.40" height="5.0" fill="#4e5c60"/><rect x="210.80" y="225.25" width="2.40" height="5.0" fill="#4e5c60"/><rect x="215.80" y="225.25" width="4.80" height="5.0" fill="#6a5058"/><rect x="228.80" y="225.25" width="2.40" height="5.0" fill="#4e5c60"/><rect x="242.20" y="225.25" width="2.00" height="5.0" fill="#4e5c60"/><rect x="256.20" y="225.25" width="2.00" height="5.0" fill="#4e5c60"/><rect x="259.80" y="225.25" width="2.40" height="5.0" fill="#4e5c60"/><rect x="275.98" y="225.25" width="5.49" height="5.0" fill="#6a5058"/><rect x="283.25" y="225.25" width="2.58" height="5.0" fill="#4e5c60"/><rect x="287.91" y="225.25" width="2.29" height="5.0" fill="#4e5c60"/><text transform="translate(37.0,253.1) scale(0.935,1)" class="lab" text-anchor="end">Chr 9</text><line x1="36.6" x2="40" y1="249.0" y2="249.0" stroke="#4a4a4a" stroke-width="1"/><rect x="54" y="239.26" width="250.5" height="5.0" rx="2.5" fill="#9ef67f"/><rect x="52.80" y="239.26" width="1.80" height="5.0" fill="#d2501a"/><rect x="55.40" y="239.26" width="1.80" height="5.0" fill="#e58d2c"/><rect x="57.40" y="239.26" width="2.40" height="5.0" fill="#d2501a"/><rect x="62.80" y="239.26" width="2.40" height="5.0" fill="#e58d2c"/><rect x="69.80" y="239.26" width="2.00" height="5.0" fill="#dca850"/><rect x="92.80" y="239.26" width="2.40" height="5.0" fill="#b87230"/><rect x="120.80" y="239.26" width="2.40" height="5.0" fill="#dca850"/><rect x="122.80" y="239.26" width="2.40" height="5.0" fill="#e58d2c"/><rect x="145.80" y="239.26" width="3.40" height="5.0" fill="#d2501a"/><rect x="149.40" y="239.26" width="1.80" height="5.0" fill="#e58d2c"/><rect x="155.80" y="239.26" width="3.40" height="5.0" fill="#e58d2c"/><rect x="167.80" y="239.26" width="2.40" height="5.0" fill="#dca850"/><rect x="175.80" y="239.26" width="2.00" height="5.0" fill="#e58d2c"/><rect x="179.80" y="239.26" width="2.00" height="5.0" fill="#e58d2c"/><rect x="183.80" y="239.26" width="3.40" height="5.0" fill="#e58d2c"/><rect x="189.80" y="239.26" width="2.00" height="5.0" fill="#dca850"/><rect x="192.80" y="239.26" width="1.80" height="5.0" fill="#e58d2c"/><rect x="196.80" y="239.26" width="1.80" height="5.0" fill="#dca850"/><rect x="200.20" y="239.26" width="3.00" height="5.0" fill="#e58d2c"/><rect x="207.40" y="239.26" width="2.80" height="5.0" fill="#d2501a"/><rect x="211.80" y="239.26" width="2.80" height="5.0" fill="#e58d2c"/><rect x="216.80" y="239.26" width="4.40" height="5.0" fill="#e58d2c"/><rect x="226.80" y="239.26" width="1.80" height="5.0" fill="#dca850"/><rect x="233.40" y="239.26" width="2.40" height="5.0" fill="#dca850"/><rect x="244.80" y="239.26" width="1.80" height="5.0" fill="#b87230"/><rect x="261.80" y="239.26" width="4.40" height="5.0" fill="#e58d2c"/><rect x="270.64" y="239.26" width="2.29" height="5.0" fill="#b87230"/><rect x="277.33" y="239.26" width="1.85" height="5.0" fill="#dca850"/><rect x="290.42" y="239.26" width="3.89" height="5.0" fill="#d2501a"/><rect x="54" y="246.26" width="250.5" height="5.0" rx="2.5" fill="#fa829a"/><rect x="51.80" y="246.26" width="2.00" height="5.0" fill="#9c6cee"/><rect x="79.80" y="246.26" width="2.00" height="5.0" fill="#9c6cee"/><rect x="89.80" y="246.26" width="2.40" height="5.0" fill="#9c6cee"/><rect x="92.20" y="246.26" width="3.60" height="5.0" fill="#9c6cee"/><rect x="118.80" y="246.26" width="1.80" height="5.0" fill="#9c6cee"/><rect x="122.20" y="246.26" width="2.00" height="5.0" fill="#9c6cee"/><rect x="130.20" y="246.26" width="2.00" height="5.0" fill="#9c6cee"/><rect x="140.80" y="246.26" width="1.80" height="5.0" fill="#9c6cee"/><rect x="151.80" y="246.26" width="3.40" height="5.0" fill="#9c6cee"/><rect x="158.80" y="246.26" width="1.40" height="5.0" fill="#9c6cee"/><rect x="159.80" y="246.26" width="1.40" height="5.0" fill="#9c6cee"/><rect x="163.40" y="246.26" width="1.80" height="5.0" fill="#9c6cee"/><rect x="166.80" y="246.26" width="1.80" height="5.0" fill="#9c6cee"/><rect x="170.80" y="246.26" width="1.80" height="5.0" fill="#9c6cee"/><rect x="175.40" y="246.26" width="5.20" height="5.0" fill="#9c6cee"/><rect x="184.80" y="246.26" width="5.00" height="5.0" fill="#9c6cee"/><rect x="192.80" y="246.26" width="1.80" height="5.0" fill="#9c6cee"/><rect x="205.40" y="246.26" width="2.80" height="5.0" fill="#9c6cee"/><rect x="210.80" y="246.26" width="1.80" height="5.0" fill="#9c6cee"/><rect x="216.80" y="246.26" width="2.40" height="5.0" fill="#9c6cee"/><rect x="223.40" y="246.26" width="2.40" height="5.0" fill="#9c6cee"/><rect x="250.20" y="246.26" width="2.00" height="5.0" fill="#9c6cee"/><rect x="256.80" y="246.26" width="1.80" height="5.0" fill="#9c6cee"/><rect x="263.80" y="246.26" width="2.00" height="5.0" fill="#9c6cee"/><rect x="279.07" y="246.26" width="1.85" height="5.0" fill="#9c6cee"/><rect x="284.89" y="246.26" width="2.15" height="5.0" fill="#9c6cee"/><rect x="303.80" y="246.26" width="2.58" height="5.0" fill="#9c6cee"/><rect x="54" y="253.31" width="250.5" height="5.0" rx="2.5" fill="#8ae1f6"/><rect x="52.80" y="253.31" width="1.80" height="5.0" fill="#4e5c60"/><rect x="55.80" y="253.31" width="3.40" height="5.0" fill="#6a5058"/><rect x="62.80" y="253.31" width="4.40" height="5.0" fill="#4e5c60"/><rect x="82.80" y="253.31" width="3.80" height="5.0" fill="#4e5c60"/><rect x="98.80" y="253.31" width="1.80" height="5.0" fill="#4e5c60"/><rect x="101.40" y="253.31" width="1.80" height="5.0" fill="#4e5c60"/><rect x="109.40" y="253.31" width="2.40" height="5.0" fill="#4e5c60"/><rect x="125.40" y="253.31" width="1.80" height="5.0" fill="#4e5c60"/><rect x="129.40" y="253.31" width="2.40" height="5.0" fill="#4e5c60"/><rect x="139.80" y="253.31" width="2.00" height="5.0" fill="#4e5c60"/><rect x="147.80" y="253.31" width="2.00" height="5.0" fill="#4e5c60"/><rect x="153.80" y="253.31" width="2.00" height="5.0" fill="#4e5c60"/><rect x="157.80" y="253.31" width="2.40" height="5.0" fill="#4e5c60"/><rect x="159.80" y="253.31" width="2.80" height="5.0" fill="#4e5c60"/><rect x="164.80" y="253.31" width="4.40" height="5.0" fill="#4e5c60"/><rect x="172.20" y="253.31" width="2.00" height="5.0" fill="#4e5c60"/><rect x="200.80" y="253.31" width="6.40" height="5.0" fill="#4e5c60"/><rect x="210.80" y="253.31" width="2.40" height="5.0" fill="#4e5c60"/><rect x="240.80" y="253.31" width="1.80" height="5.0" fill="#4e5c60"/><rect x="245.40" y="253.31" width="2.40" height="5.0" fill="#4e5c60"/><rect x="252.20" y="253.31" width="2.40" height="5.0" fill="#4e5c60"/><rect x="263.80" y="253.31" width="2.00" height="5.0" fill="#4e5c60"/><rect x="268.80" y="253.31" width="1.40" height="5.0" fill="#4e5c60"/><rect x="281.25" y="253.31" width="1.85" height="5.0" fill="#4e5c60"/><rect x="286.35" y="253.31" width="1.85" height="5.0" fill="#4e5c60"/><rect x="289.98" y="253.31" width="2.58" height="5.0" fill="#6a5058"/><text transform="translate(37.0,281.1) scale(0.935,1)" class="lab" text-anchor="end">Chr 10</text><line x1="36.6" x2="40" y1="277.0" y2="277.0" stroke="#4a4a4a" stroke-width="1"/><rect x="54.5" y="267.31" width="127.0" height="5.0" rx="2.5" fill="#9ef67f"/><rect x="51.80" y="267.31" width="1.60" height="5.0" fill="#e58d2c"/><rect x="72.20" y="267.31" width="2.40" height="5.0" fill="#b87230"/><rect x="76.20" y="267.31" width="2.00" height="5.0" fill="#dca850"/><rect x="117.80" y="267.31" width="2.80" height="5.0" fill="#b87230"/><rect x="121.80" y="267.31" width="2.80" height="5.0" fill="#dca850"/><rect x="164.80" y="267.31" width="1.80" height="5.0" fill="#dca850"/><rect x="54.5" y="274.31" width="127.0" height="5.0" rx="2.5" fill="#fa829a"/><rect x="91.80" y="274.31" width="2.00" height="5.0" fill="#9c6cee"/><rect x="99.80" y="274.31" width="2.00" height="5.0" fill="#9c6cee"/><rect x="103.40" y="274.31" width="4.80" height="5.0" fill="#9c6cee"/><rect x="109.80" y="274.31" width="2.00" height="5.0" fill="#9c6cee"/><rect x="120.80" y="274.31" width="2.40" height="5.0" fill="#9c6cee"/><rect x="125.80" y="274.31" width="2.00" height="5.0" fill="#9c6cee"/><rect x="129.80" y="274.31" width="2.00" height="5.0" fill="#9c6cee"/><rect x="132.80" y="274.31" width="1.80" height="5.0" fill="#9c6cee"/><rect x="142.80" y="274.31" width="1.80" height="5.0" fill="#9c6cee"/><rect x="148.20" y="274.31" width="2.00" height="5.0" fill="#9c6cee"/><rect x="152.80" y="274.31" width="1.80" height="5.0" fill="#9c6cee"/><rect x="156.80" y="274.31" width="2.40" height="5.0" fill="#9c6cee"/><rect x="174.80" y="274.31" width="2.40" height="5.0" fill="#9c6cee"/><rect x="178.20" y="274.31" width="3.00" height="5.0" fill="#9c6cee"/><rect x="54.5" y="281.36" width="127.0" height="5.0" rx="2.5" fill="#8ae1f6"/><rect x="52.80" y="281.36" width="3.80" height="5.0" fill="#4e5c60"/><rect x="58.80" y="281.36" width="5.40" height="5.0" fill="#6a5058"/><rect x="69.40" y="281.36" width="1.80" height="5.0" fill="#4e5c60"/><rect x="77.80" y="281.36" width="2.00" height="5.0" fill="#4e5c60"/><rect x="97.80" y="281.36" width="2.00" height="5.0" fill="#4e5c60"/><rect x="103.80" y="281.36" width="2.00" height="5.0" fill="#4e5c60"/><rect x="141.80" y="281.36" width="2.00" height="5.0" fill="#4e5c60"/><rect x="155.80" y="281.36" width="2.00" height="5.0" fill="#4e5c60"/><rect x="167.80" y="281.36" width="4.80" height="5.0" fill="#4e5c60"/><rect x="176.80" y="281.36" width="1.80" height="5.0" fill="#4e5c60"/><text transform="translate(37.0,309.2) scale(0.935,1)" class="lab" text-anchor="end">Chr 11</text><line x1="36.6" x2="40" y1="305.1" y2="305.1" stroke="#4a4a4a" stroke-width="1"/><rect x="55" y="295.37" width="135.5" height="5.0" rx="2.5" fill="#9ef67f"/><rect x="51.40" y="295.37" width="1.60" height="5.0" fill="#e58d2c"/><rect x="55.40" y="295.37" width="1.80" height="5.0" fill="#dca850"/><rect x="93.40" y="295.37" width="1.80" height="5.0" fill="#b87230"/><rect x="96.20" y="295.37" width="2.00" height="5.0" fill="#dca850"/><rect x="100.80" y="295.37" width="1.80" height="5.0" fill="#dca850"/><rect x="106.80" y="295.37" width="1.80" height="5.0" fill="#dca850"/><rect x="109.40" y="295.37" width="1.80" height="5.0" fill="#b87230"/><rect x="112.20" y="295.37" width="2.40" height="5.0" fill="#e58d2c"/><rect x="114.80" y="295.37" width="2.40" height="5.0" fill="#dca850"/><rect x="121.80" y="295.37" width="2.80" height="5.0" fill="#d2501a"/><rect x="124.80" y="295.37" width="2.40" height="5.0" fill="#d2501a"/><rect x="145.80" y="295.37" width="4.40" height="5.0" fill="#e58d2c"/><rect x="55" y="302.37" width="135.5" height="5.0" rx="2.5" fill="#fa829a"/><rect x="51.40" y="302.37" width="1.60" height="5.0" fill="#9c6cee"/><rect x="74.80" y="302.37" width="2.40" height="5.0" fill="#9c6cee"/><rect x="78.80" y="302.37" width="2.40" height="5.0" fill="#9c6cee"/><rect x="94.80" y="302.37" width="2.40" height="5.0" fill="#9c6cee"/><rect x="99.80" y="302.37" width="2.00" height="5.0" fill="#9c6cee"/><rect x="117.80" y="302.37" width="2.00" height="5.0" fill="#9c6cee"/><rect x="127.40" y="302.37" width="2.40" height="5.0" fill="#9c6cee"/><rect x="134.80" y="302.37" width="1.80" height="5.0" fill="#9c6cee"/><rect x="137.80" y="302.37" width="2.00" height="5.0" fill="#9c6cee"/><rect x="140.80" y="302.37" width="1.80" height="5.0" fill="#9c6cee"/><rect x="145.40" y="302.37" width="2.80" height="5.0" fill="#9c6cee"/><rect x="148.80" y="302.37" width="1.80" height="5.0" fill="#9c6cee"/><rect x="151.80" y="302.37" width="2.00" height="5.0" fill="#9c6cee"/><rect x="156.80" y="302.37" width="3.40" height="5.0" fill="#9c6cee"/><rect x="55" y="309.42" width="135.5" height="5.0" rx="2.5" fill="#8ae1f6"/><rect x="60.80" y="309.42" width="3.80" height="5.0" fill="#6a5058"/><rect x="65.80" y="309.42" width="2.00" height="5.0" fill="#4e5c60"/><rect x="77.80" y="309.42" width="2.00" height="5.0" fill="#4e5c60"/><rect x="106.20" y="309.42" width="3.60" height="5.0" fill="#6a5058"/><rect x="121.80" y="309.42" width="2.00" height="5.0" fill="#4e5c60"/><rect x="145.80" y="309.42" width="2.00" height="5.0" fill="#4e5c60"/><rect x="149.40" y="309.42" width="6.40" height="5.0" fill="#6a5058"/><rect x="155.80" y="309.42" width="4.40" height="5.0" fill="#4e5c60"/><rect x="165.06" y="309.42" width="3.03" height="5.0" fill="#6a5058"/><rect x="175.59" y="309.42" width="2.51" height="5.0" fill="#6a5058"/><text transform="translate(37.0,337.2) scale(0.935,1)" class="lab" text-anchor="end">Chr 12</text><line x1="36.6" x2="40" y1="333.1" y2="333.1" stroke="#4a4a4a" stroke-width="1"/><rect x="57" y="323.43" width="104.3" height="5.0" rx="2.5" fill="#9ef67f"/><rect x="64.80" y="323.43" width="1.80" height="5.0" fill="#dca850"/><rect x="81.40" y="323.43" width="1.80" height="5.0" fill="#b87230"/><rect x="102.80" y="323.43" width="1.80" height="5.0" fill="#dca850"/><rect x="57" y="330.43" width="104.3" height="5.0" rx="2.5" fill="#fa829a"/><rect x="58.80" y="330.43" width="1.80" height="5.0" fill="#9c6cee"/><rect x="68.80" y="330.43" width="3.40" height="5.0" fill="#9c6cee"/><rect x="73.40" y="330.43" width="2.40" height="5.0" fill="#9c6cee"/><rect x="86.80" y="330.43" width="1.80" height="5.0" fill="#9c6cee"/><rect x="117.80" y="330.43" width="2.00" height="5.0" fill="#9c6cee"/><rect x="129.80" y="330.43" width="2.80" height="5.0" fill="#9c6cee"/><rect x="133.80" y="330.43" width="2.80" height="5.0" fill="#9c6cee"/><rect x="143.80" y="330.43" width="2.00" height="5.0" fill="#9c6cee"/><rect x="57" y="337.48" width="104.3" height="5.0" rx="2.5" fill="#8ae1f6"/><rect x="96.20" y="337.48" width="8.40" height="5.0" fill="#6a5058"/><rect x="117.80" y="337.48" width="2.00" height="5.0" fill="#4e5c60"/><rect x="121.80" y="337.48" width="5.40" height="5.0" fill="#6a5058"/><rect x="140.20" y="337.48" width="2.00" height="5.0" fill="#4e5c60"/><rect x="153.80" y="337.48" width="2.00" height="5.0" fill="#4e5c60"/><text transform="translate(37.0,365.3) scale(0.935,1)" class="lab" text-anchor="end">Chr 13</text><line x1="36.6" x2="40" y1="361.2" y2="361.2" stroke="#4a4a4a" stroke-width="1"/><rect x="56.2" y="351.48" width="355.0" height="5.0" rx="2.5" fill="#9ef67f"/><rect x="58.80" y="351.48" width="1.80" height="5.0" fill="#b87230"/><rect x="87.40" y="351.48" width="1.80" height="5.0" fill="#b87230"/><rect x="113.80" y="351.48" width="1.80" height="5.0" fill="#dca850"/><rect x="118.80" y="351.48" width="1.80" height="5.0" fill="#dca850"/><rect x="127.40" y="351.48" width="1.80" height="5.0" fill="#dca850"/><rect x="132.20" y="351.48" width="2.00" height="5.0" fill="#d2501a"/><rect x="134.20" y="351.48" width="2.40" height="5.0" fill="#e58d2c"/><rect x="138.80" y="351.48" width="1.80" height="5.0" fill="#dca850"/><rect x="144.80" y="351.48" width="2.40" height="5.0" fill="#d2501a"/><rect x="147.40" y="351.48" width="2.80" height="5.0" fill="#e58d2c"/><rect x="150.80" y="351.48" width="2.40" height="5.0" fill="#b87230"/><rect x="153.80" y="351.48" width="1.40" height="5.0" fill="#e58d2c"/><rect x="159.80" y="351.48" width="2.40" height="5.0" fill="#e58d2c"/><rect x="163.80" y="351.48" width="2.00" height="5.0" fill="#d2501a"/><rect x="166.20" y="351.48" width="2.00" height="5.0" fill="#b87230"/><rect x="169.80" y="351.48" width="2.40" height="5.0" fill="#d2501a"/><rect x="182.80" y="351.48" width="2.40" height="5.0" fill="#b87230"/><rect x="199.80" y="351.48" width="2.00" height="5.0" fill="#dca850"/><rect x="202.80" y="351.48" width="1.80" height="5.0" fill="#dca850"/><rect x="207.40" y="351.48" width="4.80" height="5.0" fill="#d2501a"/><rect x="221.80" y="351.48" width="2.80" height="5.0" fill="#d2501a"/><rect x="226.80" y="351.48" width="2.40" height="5.0" fill="#d2501a"/><rect x="229.40" y="351.48" width="1.80" height="5.0" fill="#e58d2c"/><rect x="234.80" y="351.48" width="2.40" height="5.0" fill="#dca850"/><rect x="247.80" y="351.48" width="2.00" height="5.0" fill="#dca850"/><rect x="266.80" y="351.48" width="3.40" height="5.0" fill="#e58d2c"/><rect x="320.20" y="351.48" width="4.00" height="5.0" fill="#d2501a"/><rect x="335.80" y="351.48" width="2.80" height="5.0" fill="#e58d2c"/><rect x="350.80" y="351.48" width="1.80" height="5.0" fill="#dca850"/><rect x="357.80" y="351.48" width="3.40" height="5.0" fill="#e58d2c"/><rect x="367.80" y="351.48" width="2.40" height="5.0" fill="#e58d2c"/><rect x="376.44" y="351.48" width="2.85" height="5.0" fill="#b87230"/><rect x="56.2" y="358.48" width="355.0" height="5.0" rx="2.5" fill="#fa829a"/><rect x="54.80" y="358.48" width="3.00" height="5.0" fill="#9c6cee"/><rect x="104.80" y="358.48" width="3.40" height="5.0" fill="#9c6cee"/><rect x="108.20" y="358.48" width="4.00" height="5.0" fill="#9c6cee"/><rect x="114.20" y="358.48" width="2.40" height="5.0" fill="#9c6cee"/><rect x="117.40" y="358.48" width="2.40" height="5.0" fill="#9c6cee"/><rect x="138.80" y="358.48" width="2.40" height="5.0" fill="#9c6cee"/><rect x="149.80" y="358.48" width="2.00" height="5.0" fill="#9c6cee"/><rect x="157.80" y="358.48" width="4.40" height="5.0" fill="#9c6cee"/><rect x="164.80" y="358.48" width="1.80" height="5.0" fill="#9c6cee"/><rect x="170.80" y="358.48" width="1.80" height="5.0" fill="#9c6cee"/><rect x="183.80" y="358.48" width="2.00" height="5.0" fill="#9c6cee"/><rect x="190.80" y="358.48" width="1.80" height="5.0" fill="#9c6cee"/><rect x="194.80" y="358.48" width="2.40" height="5.0" fill="#9c6cee"/><rect x="201.80" y="358.48" width="4.80" height="5.0" fill="#9c6cee"/><rect x="210.80" y="358.48" width="1.80" height="5.0" fill="#9c6cee"/><rect x="239.80" y="358.48" width="2.00" height="5.0" fill="#9c6cee"/><rect x="246.80" y="358.48" width="5.00" height="5.0" fill="#9c6cee"/><rect x="269.80" y="358.48" width="2.40" height="5.0" fill="#9c6cee"/><rect x="273.80" y="358.48" width="2.00" height="5.0" fill="#9c6cee"/><rect x="275.80" y="358.48" width="2.40" height="5.0" fill="#9c6cee"/><rect x="291.80" y="358.48" width="2.00" height="5.0" fill="#9c6cee"/><rect x="295.80" y="358.48" width="3.40" height="5.0" fill="#9c6cee"/><rect x="299.80" y="358.48" width="2.00" height="5.0" fill="#9c6cee"/><rect x="303.80" y="358.48" width="2.00" height="5.0" fill="#9c6cee"/><rect x="306.20" y="358.48" width="2.00" height="5.0" fill="#9c6cee"/><rect x="342.80" y="358.48" width="3.00" height="5.0" fill="#9c6cee"/><rect x="351.80" y="358.48" width="2.00" height="5.0" fill="#9c6cee"/><rect x="362.80" y="358.48" width="1.80" height="5.0" fill="#9c6cee"/><rect x="365.80" y="358.48" width="2.00" height="5.0" fill="#9c6cee"/><rect x="369.80" y="358.48" width="3.40" height="5.0" fill="#9c6cee"/><rect x="56.2" y="365.53" width="355.0" height="5.0" rx="2.5" fill="#8ae1f6"/><rect x="75.40" y="365.53" width="1.80" height="5.0" fill="#4e5c60"/><rect x="79.40" y="365.53" width="2.40" height="5.0" fill="#4e5c60"/><rect x="86.80" y="365.53" width="1.80" height="5.0" fill="#4e5c60"/><rect x="89.80" y="365.53" width="2.00" height="5.0" fill="#4e5c60"/><rect x="94.80" y="365.53" width="1.80" height="5.0" fill="#4e5c60"/><rect x="101.80" y="365.53" width="2.00" height="5.0" fill="#4e5c60"/><rect x="107.80" y="365.53" width="3.40" height="5.0" fill="#4e5c60"/><rect x="111.40" y="365.53" width="3.20" height="5.0" fill="#6a5058"/><rect x="115.80" y="365.53" width="3.40" height="5.0" fill="#4e5c60"/><rect x="127.80" y="365.53" width="2.00" height="5.0" fill="#4e5c60"/><rect x="132.80" y="365.53" width="1.80" height="5.0" fill="#4e5c60"/><rect x="139.40" y="365.53" width="1.80" height="5.0" fill="#4e5c60"/><rect x="149.80" y="365.53" width="4.40" height="5.0" fill="#4e5c60"/><rect x="153.80" y="365.53" width="2.40" height="5.0" fill="#4e5c60"/><rect x="166.80" y="365.53" width="2.40" height="5.0" fill="#4e5c60"/><rect x="170.20" y="365.53" width="3.00" height="5.0" fill="#4e5c60"/><rect x="181.80" y="365.53" width="2.00" height="5.0" fill="#4e5c60"/><rect x="189.80" y="365.53" width="2.00" height="5.0" fill="#4e5c60"/><rect x="198.20" y="365.53" width="4.00" height="5.0" fill="#4e5c60"/><rect x="203.80" y="365.53" width="2.00" height="5.0" fill="#4e5c60"/><rect x="212.80" y="365.53" width="2.40" height="5.0" fill="#4e5c60"/><rect x="217.40" y="365.53" width="1.80" height="5.0" fill="#4e5c60"/><rect x="222.80" y="365.53" width="1.80" height="5.0" fill="#4e5c60"/><rect x="232.80" y="365.53" width="1.80" height="5.0" fill="#4e5c60"/><rect x="236.80" y="365.53" width="1.80" height="5.0" fill="#4e5c60"/><rect x="247.80" y="365.53" width="2.00" height="5.0" fill="#4e5c60"/><rect x="250.20" y="365.53" width="1.60" height="5.0" fill="#4e5c60"/><rect x="281.40" y="365.53" width="2.80" height="5.0" fill="#4e5c60"/><rect x="303.80" y="365.53" width="2.40" height="5.0" fill="#4e5c60"/><rect x="321.40" y="365.53" width="1.80" height="5.0" fill="#4e5c60"/><rect x="339.80" y="365.53" width="2.00" height="5.0" fill="#4e5c60"/><rect x="365.80" y="365.53" width="5.40" height="5.0" fill="#6a5058"/><rect x="371.80" y="365.53" width="2.40" height="5.0" fill="#4e5c60"/><rect x="375.62" y="365.53" width="2.85" height="5.0" fill="#4e5c60"/><rect x="379.71" y="365.53" width="2.53" height="5.0" fill="#4e5c60"/><rect x="391.16" y="365.53" width="3.67" height="5.0" fill="#6a5058"/><text transform="translate(37.0,393.3) scale(0.935,1)" class="lab" text-anchor="end">Chr 14</text><line x1="36.6" x2="40" y1="389.2" y2="389.2" stroke="#4a4a4a" stroke-width="1"/><rect x="55.4" y="379.54" width="244.1" height="5.0" rx="2.5" fill="#9ef67f"/><rect x="85.80" y="379.54" width="3.40" height="5.0" fill="#e58d2c"/><rect x="105.80" y="379.54" width="5.40" height="5.0" fill="#e58d2c"/><rect x="111.80" y="379.54" width="2.40" height="5.0" fill="#d2501a"/><rect x="115.80" y="379.54" width="2.80" height="5.0" fill="#d2501a"/><rect x="129.80" y="379.54" width="3.40" height="5.0" fill="#d2501a"/><rect x="133.40" y="379.54" width="2.40" height="5.0" fill="#e58d2c"/><rect x="138.20" y="379.54" width="2.00" height="5.0" fill="#d2501a"/><rect x="140.80" y="379.54" width="2.40" height="5.0" fill="#e58d2c"/><rect x="144.80" y="379.54" width="1.80" height="5.0" fill="#dca850"/><rect x="151.80" y="379.54" width="2.40" height="5.0" fill="#e58d2c"/><rect x="153.80" y="379.54" width="2.00" height="5.0" fill="#d2501a"/><rect x="158.80" y="379.54" width="3.00" height="5.0" fill="#e58d2c"/><rect x="171.40" y="379.54" width="2.80" height="5.0" fill="#b87230"/><rect x="180.80" y="379.54" width="3.40" height="5.0" fill="#d2501a"/><rect x="194.80" y="379.54" width="3.00" height="5.0" fill="#d2501a"/><rect x="206.20" y="379.54" width="5.00" height="5.0" fill="#d2501a"/><rect x="214.80" y="379.54" width="3.40" height="5.0" fill="#e58d2c"/><rect x="218.20" y="379.54" width="4.00" height="5.0" fill="#e58d2c"/><rect x="225.40" y="379.54" width="2.80" height="5.0" fill="#d2501a"/><rect x="229.40" y="379.54" width="1.80" height="5.0" fill="#b87230"/><rect x="234.80" y="379.54" width="2.40" height="5.0" fill="#b87230"/><rect x="299.40" y="379.54" width="2.00" height="5.0" fill="#e58d2c"/><rect x="55.4" y="386.54" width="244.1" height="5.0" rx="2.5" fill="#fa829a"/><rect x="71.40" y="386.54" width="3.20" height="5.0" fill="#9c6cee"/><rect x="91.80" y="386.54" width="2.00" height="5.0" fill="#9c6cee"/><rect x="96.20" y="386.54" width="2.00" height="5.0" fill="#9c6cee"/><rect x="107.80" y="386.54" width="2.40" height="5.0" fill="#9c6cee"/><rect x="111.80" y="386.54" width="2.00" height="5.0" fill="#9c6cee"/><rect x="116.20" y="386.54" width="2.00" height="5.0" fill="#9c6cee"/><rect x="118.80" y="386.54" width="1.80" height="5.0" fill="#9c6cee"/><rect x="124.80" y="386.54" width="1.80" height="5.0" fill="#9c6cee"/><rect x="127.80" y="386.54" width="2.00" height="5.0" fill="#9c6cee"/><rect x="131.80" y="386.54" width="2.00" height="5.0" fill="#9c6cee"/><rect x="134.80" y="386.54" width="1.80" height="5.0" fill="#9c6cee"/><rect x="138.80" y="386.54" width="2.40" height="5.0" fill="#9c6cee"/><rect x="146.80" y="386.54" width="1.80" height="5.0" fill="#9c6cee"/><rect x="160.80" y="386.54" width="4.40" height="5.0" fill="#9c6cee"/><rect x="199.40" y="386.54" width="2.00" height="5.0" fill="#9c6cee"/><rect x="213.80" y="386.54" width="2.40" height="5.0" fill="#9c6cee"/><rect x="216.80" y="386.54" width="2.40" height="5.0" fill="#9c6cee"/><rect x="220.80" y="386.54" width="5.00" height="5.0" fill="#9c6cee"/><rect x="228.80" y="386.54" width="2.40" height="5.0" fill="#9c6cee"/><rect x="236.80" y="386.54" width="1.80" height="5.0" fill="#9c6cee"/><rect x="252.80" y="386.54" width="2.40" height="5.0" fill="#9c6cee"/><rect x="263.80" y="386.54" width="2.00" height="5.0" fill="#9c6cee"/><rect x="269.80" y="386.54" width="2.00" height="5.0" fill="#9c6cee"/><rect x="272.80" y="386.54" width="1.80" height="5.0" fill="#9c6cee"/><rect x="278.80" y="386.54" width="3.40" height="5.0" fill="#9c6cee"/><rect x="287.80" y="386.54" width="2.40" height="5.0" fill="#9c6cee"/><rect x="298.80" y="386.54" width="1.80" height="5.0" fill="#9c6cee"/><rect x="55.4" y="393.59" width="244.1" height="5.0" rx="2.5" fill="#8ae1f6"/><rect x="68.80" y="393.59" width="3.40" height="5.0" fill="#6a5058"/><rect x="75.80" y="393.59" width="2.80" height="5.0" fill="#4e5c60"/><rect x="78.80" y="393.59" width="3.40" height="5.0" fill="#4e5c60"/><rect x="82.80" y="393.59" width="3.40" height="5.0" fill="#4e5c60"/><rect x="112.80" y="393.59" width="2.40" height="5.0" fill="#4e5c60"/><rect x="140.80" y="393.59" width="3.00" height="5.0" fill="#4e5c60"/><rect x="150.80" y="393.59" width="3.40" height="5.0" fill="#4e5c60"/><rect x="153.80" y="393.59" width="2.00" height="5.0" fill="#4e5c60"/><rect x="186.80" y="393.59" width="4.40" height="5.0" fill="#4e5c60"/><rect x="200.80" y="393.59" width="1.80" height="5.0" fill="#4e5c60"/><rect x="209.80" y="393.59" width="2.40" height="5.0" fill="#4e5c60"/><rect x="217.40" y="393.59" width="2.80" height="5.0" fill="#4e5c60"/><rect x="227.80" y="393.59" width="2.00" height="5.0" fill="#4e5c60"/><rect x="231.80" y="393.59" width="2.00" height="5.0" fill="#4e5c60"/><rect x="237.80" y="393.59" width="2.00" height="5.0" fill="#4e5c60"/><rect x="254.80" y="393.59" width="3.80" height="5.0" fill="#4e5c60"/><rect x="271.80" y="393.59" width="2.40" height="5.0" fill="#4e5c60"/><rect x="287.80" y="393.59" width="4.40" height="5.0" fill="#6a5058"/><text transform="translate(37.0,421.4) scale(0.935,1)" class="lab" text-anchor="end">Chr 15</text><line x1="36.6" x2="40" y1="417.3" y2="417.3" stroke="#4a4a4a" stroke-width="1"/><rect x="54.8" y="407.60" width="259.4" height="5.0" rx="2.5" fill="#9ef67f"/><rect x="56.80" y="407.60" width="3.80" height="5.0" fill="#d2501a"/><rect x="67.80" y="407.60" width="2.40" height="5.0" fill="#b87230"/><rect x="71.80" y="407.60" width="2.00" height="5.0" fill="#dca850"/><rect x="83.40" y="407.60" width="1.80" height="5.0" fill="#b87230"/><rect x="106.20" y="407.60" width="3.00" height="5.0" fill="#d2501a"/><rect x="124.20" y="407.60" width="2.40" height="5.0" fill="#e58d2c"/><rect x="128.80" y="407.60" width="3.00" height="5.0" fill="#d2501a"/><rect x="132.20" y="407.60" width="3.00" height="5.0" fill="#e58d2c"/><rect x="135.40" y="407.60" width="1.80" height="5.0" fill="#dca850"/><rect x="140.80" y="407.60" width="2.40" height="5.0" fill="#d2501a"/><rect x="144.80" y="407.60" width="1.80" height="5.0" fill="#dca850"/><rect x="151.80" y="407.60" width="2.40" height="5.0" fill="#e58d2c"/><rect x="153.80" y="407.60" width="2.80" height="5.0" fill="#d2501a"/><rect x="157.80" y="407.60" width="2.40" height="5.0" fill="#e58d2c"/><rect x="163.40" y="407.60" width="1.80" height="5.0" fill="#dca850"/><rect x="173.40" y="407.60" width="1.80" height="5.0" fill="#dca850"/><rect x="184.80" y="407.60" width="1.80" height="5.0" fill="#b87230"/><rect x="189.40" y="407.60" width="1.80" height="5.0" fill="#dca850"/><rect x="192.80" y="407.60" width="4.40" height="5.0" fill="#e58d2c"/><rect x="197.40" y="407.60" width="5.80" height="5.0" fill="#d2501a"/><rect x="208.80" y="407.60" width="5.00" height="5.0" fill="#d2501a"/><rect x="216.80" y="407.60" width="3.00" height="5.0" fill="#d2501a"/><rect x="225.80" y="407.60" width="2.00" height="5.0" fill="#b87230"/><rect x="234.20" y="407.60" width="2.40" height="5.0" fill="#d2501a"/><rect x="252.80" y="407.60" width="1.80" height="5.0" fill="#b87230"/><rect x="266.96" y="407.60" width="1.85" height="5.0" fill="#dca850"/><rect x="278.89" y="407.60" width="2.15" height="5.0" fill="#dca850"/><rect x="287.91" y="407.60" width="1.85" height="5.0" fill="#b87230"/><rect x="293.44" y="407.60" width="4.76" height="5.0" fill="#e58d2c"/><rect x="306.53" y="407.60" width="2.58" height="5.0" fill="#d2501a"/><rect x="54.8" y="414.60" width="259.4" height="5.0" rx="2.5" fill="#fa829a"/><rect x="56.80" y="414.60" width="2.40" height="5.0" fill="#9c6cee"/><rect x="61.40" y="414.60" width="1.80" height="5.0" fill="#9c6cee"/><rect x="71.80" y="414.60" width="2.00" height="5.0" fill="#9c6cee"/><rect x="78.20" y="414.60" width="2.00" height="5.0" fill="#9c6cee"/><rect x="91.40" y="414.60" width="2.40" height="5.0" fill="#9c6cee"/><rect x="106.20" y="414.60" width="3.00" height="5.0" fill="#9c6cee"/><rect x="109.80" y="414.60" width="3.40" height="5.0" fill="#9c6cee"/><rect x="114.80" y="414.60" width="1.80" height="5.0" fill="#9c6cee"/><rect x="119.80" y="414.60" width="2.00" height="5.0" fill="#9c6cee"/><rect x="126.80" y="414.60" width="2.40" height="5.0" fill="#9c6cee"/><rect x="160.80" y="414.60" width="2.40" height="5.0" fill="#9c6cee"/><rect x="192.80" y="414.60" width="2.40" height="5.0" fill="#9c6cee"/><rect x="198.80" y="414.60" width="2.40" height="5.0" fill="#9c6cee"/><rect x="203.80" y="414.60" width="3.40" height="5.0" fill="#9c6cee"/><rect x="207.80" y="414.60" width="4.40" height="5.0" fill="#9c6cee"/><rect x="213.40" y="414.60" width="1.80" height="5.0" fill="#9c6cee"/><rect x="217.40" y="414.60" width="2.40" height="5.0" fill="#9c6cee"/><rect x="231.80" y="414.60" width="2.80" height="5.0" fill="#9c6cee"/><rect x="238.80" y="414.60" width="2.40" height="5.0" fill="#9c6cee"/><rect x="257.80" y="414.60" width="6.40" height="5.0" fill="#9c6cee"/><rect x="284.71" y="414.60" width="1.85" height="5.0" fill="#9c6cee"/><rect x="292.71" y="414.60" width="4.04" height="5.0" fill="#9c6cee"/><rect x="305.07" y="414.60" width="2.15" height="5.0" fill="#9c6cee"/><rect x="54.8" y="421.65" width="259.4" height="5.0" rx="2.5" fill="#8ae1f6"/><rect x="52.20" y="421.65" width="2.00" height="5.0" fill="#4e5c60"/><rect x="85.80" y="421.65" width="2.00" height="5.0" fill="#4e5c60"/><rect x="103.80" y="421.65" width="2.00" height="5.0" fill="#4e5c60"/><rect x="118.80" y="421.65" width="1.80" height="5.0" fill="#4e5c60"/><rect x="122.80" y="421.65" width="1.80" height="5.0" fill="#4e5c60"/><rect x="136.80" y="421.65" width="1.80" height="5.0" fill="#4e5c60"/><rect x="147.80" y="421.65" width="2.40" height="5.0" fill="#4e5c60"/><rect x="151.80" y="421.65" width="2.40" height="5.0" fill="#4e5c60"/><rect x="153.80" y="421.65" width="2.40" height="5.0" fill="#4e5c60"/><rect x="173.80" y="421.65" width="2.40" height="5.0" fill="#4e5c60"/><rect x="213.80" y="421.65" width="2.80" height="5.0" fill="#4e5c60"/><rect x="217.80" y="421.65" width="2.00" height="5.0" fill="#4e5c60"/><rect x="237.40" y="421.65" width="4.80" height="5.0" fill="#4e5c60"/><rect x="250.80" y="421.65" width="2.40" height="5.0" fill="#4e5c60"/><rect x="256.80" y="421.65" width="3.40" height="5.0" fill="#4e5c60"/><rect x="260.80" y="421.65" width="3.40" height="5.0" fill="#4e5c60"/><rect x="285.44" y="421.65" width="2.58" height="5.0" fill="#4e5c60"/><rect x="291.25" y="421.65" width="2.58" height="5.0" fill="#4e5c60"/><rect x="294.89" y="421.65" width="3.31" height="5.0" fill="#6a5058"/><rect x="302.16" y="421.65" width="2.15" height="5.0" fill="#4e5c60"/><rect x="306.53" y="421.65" width="1.85" height="5.0" fill="#4e5c60"/><rect x="312.35" y="421.65" width="1.85" height="5.0" fill="#4e5c60"/><text transform="translate(37.0,449.5) scale(0.935,1)" class="lab" text-anchor="end">Chr 16</text><line x1="36.6" x2="40" y1="445.4" y2="445.4" stroke="#4a4a4a" stroke-width="1"/><rect x="55.2" y="435.65" width="135.6" height="5.0" rx="2.5" fill="#9ef67f"/><rect x="64.80" y="435.65" width="1.80" height="5.0" fill="#dca850"/><rect x="78.80" y="435.65" width="1.80" height="5.0" fill="#dca850"/><rect x="96.80" y="435.65" width="1.80" height="5.0" fill="#dca850"/><rect x="114.80" y="435.65" width="3.00" height="5.0" fill="#d2501a"/><rect x="119.40" y="435.65" width="1.80" height="5.0" fill="#e58d2c"/><rect x="125.80" y="435.65" width="2.00" height="5.0" fill="#dca850"/><rect x="132.80" y="435.65" width="2.40" height="5.0" fill="#d2501a"/><rect x="153.80" y="435.65" width="2.40" height="5.0" fill="#e58d2c"/><rect x="180.80" y="435.65" width="1.80" height="5.0" fill="#b87230"/><rect x="55.2" y="442.65" width="135.6" height="5.0" rx="2.5" fill="#fa829a"/><rect x="52.20" y="442.65" width="1.60" height="5.0" fill="#9c6cee"/><rect x="57.40" y="442.65" width="2.00" height="5.0" fill="#9c6cee"/><rect x="89.40" y="442.65" width="1.80" height="5.0" fill="#9c6cee"/><rect x="95.40" y="442.65" width="3.20" height="5.0" fill="#9c6cee"/><rect x="105.80" y="442.65" width="2.00" height="5.0" fill="#9c6cee"/><rect x="107.80" y="442.65" width="2.00" height="5.0" fill="#9c6cee"/><rect x="122.20" y="442.65" width="3.00" height="5.0" fill="#9c6cee"/><rect x="134.80" y="442.65" width="1.80" height="5.0" fill="#9c6cee"/><rect x="145.40" y="442.65" width="1.80" height="5.0" fill="#9c6cee"/><rect x="150.80" y="442.65" width="2.40" height="5.0" fill="#9c6cee"/><rect x="153.80" y="442.65" width="2.80" height="5.0" fill="#9c6cee"/><rect x="167.80" y="442.65" width="2.40" height="5.0" fill="#9c6cee"/><rect x="186.20" y="442.65" width="4.00" height="5.0" fill="#9c6cee"/><rect x="55.2" y="449.70" width="135.6" height="5.0" rx="2.5" fill="#8ae1f6"/><rect x="54.80" y="449.70" width="2.40" height="5.0" fill="#6a5058"/><rect x="89.40" y="449.70" width="1.80" height="5.0" fill="#4e5c60"/><rect x="96.80" y="449.70" width="1.80" height="5.0" fill="#6a5058"/><rect x="102.80" y="449.70" width="6.40" height="5.0" fill="#4e5c60"/><rect x="114.80" y="449.70" width="1.80" height="5.0" fill="#4e5c60"/><rect x="119.80" y="449.70" width="2.00" height="5.0" fill="#4e5c60"/><rect x="139.40" y="449.70" width="2.40" height="5.0" fill="#6a5058"/><rect x="162.80" y="449.70" width="5.40" height="5.0" fill="#6a5058"/><rect x="170.80" y="449.70" width="2.40" height="5.0" fill="#4e5c60"/><rect x="177.80" y="449.70" width="2.40" height="5.0" fill="#4e5c60"/><rect x="184.80" y="449.70" width="3.80" height="5.0" fill="#6a5058"/><text transform="translate(37.0,477.5) scale(0.935,1)" class="lab" text-anchor="end">Chr 17</text><line x1="36.6" x2="40" y1="473.4" y2="473.4" stroke="#4a4a4a" stroke-width="1"/><rect x="55.3" y="463.71" width="103.6" height="5.0" rx="2.5" fill="#9ef67f"/><rect x="55.40" y="463.71" width="2.40" height="5.0" fill="#dca850"/><rect x="113.40" y="463.71" width="1.80" height="5.0" fill="#b87230"/><rect x="116.80" y="463.71" width="2.40" height="5.0" fill="#b87230"/><rect x="139.80" y="463.71" width="2.67" height="5.0" fill="#b87230"/><rect x="55.3" y="470.71" width="103.6" height="5.0" rx="2.5" fill="#fa829a"/><rect x="85.80" y="470.71" width="2.80" height="5.0" fill="#9c6cee"/><rect x="89.40" y="470.71" width="2.00" height="5.0" fill="#9c6cee"/><rect x="98.80" y="470.71" width="2.40" height="5.0" fill="#9c6cee"/><rect x="109.80" y="470.71" width="3.40" height="5.0" fill="#9c6cee"/><rect x="113.80" y="470.71" width="2.80" height="5.0" fill="#9c6cee"/><rect x="122.20" y="470.71" width="2.00" height="5.0" fill="#9c6cee"/><rect x="142.53" y="470.71" width="2.22" height="5.0" fill="#9c6cee"/><rect x="150.25" y="470.71" width="4.04" height="5.0" fill="#9c6cee"/><rect x="55.3" y="477.76" width="103.6" height="5.0" rx="2.5" fill="#8ae1f6"/><rect x="57.40" y="477.76" width="5.80" height="5.0" fill="#4e5c60"/><rect x="75.40" y="477.76" width="1.80" height="5.0" fill="#4e5c60"/><rect x="98.80" y="477.76" width="5.40" height="5.0" fill="#4e5c60"/><rect x="104.80" y="477.76" width="1.80" height="5.0" fill="#4e5c60"/><rect x="108.80" y="477.76" width="3.40" height="5.0" fill="#4e5c60"/><rect x="124.80" y="477.76" width="2.40" height="5.0" fill="#4e5c60"/><rect x="134.35" y="477.76" width="2.67" height="5.0" fill="#4e5c60"/><rect x="138.89" y="477.76" width="3.13" height="5.0" fill="#6a5058"/><rect x="142.07" y="477.76" width="3.13" height="5.0" fill="#6a5058"/><rect x="145.25" y="477.76" width="3.13" height="5.0" fill="#4e5c60"/><rect x="148.44" y="477.76" width="2.67" height="5.0" fill="#4e5c60"/><rect x="151.62" y="477.76" width="3.13" height="5.0" fill="#4e5c60"/><rect x="156.16" y="477.76" width="1.76" height="5.0" fill="#4e5c60"/><text transform="translate(37.0,505.6) scale(0.935,1)" class="lab" text-anchor="end">Chr 18</text><line x1="36.6" x2="40" y1="501.5" y2="501.5" stroke="#4a4a4a" stroke-width="1"/><rect x="54.6" y="491.77" width="92.0" height="5.0" rx="2.5" fill="#9ef67f"/><rect x="75.80" y="491.77" width="2.00" height="5.0" fill="#dca850"/><rect x="97.80" y="491.77" width="2.40" height="5.0" fill="#d2501a"/><rect x="102.80" y="491.77" width="1.80" height="5.0" fill="#dca850"/><rect x="112.20" y="491.77" width="2.00" height="5.0" fill="#dca850"/><rect x="130.20" y="491.77" width="2.00" height="5.0" fill="#dca850"/><rect x="134.80" y="491.77" width="1.80" height="5.0" fill="#dca850"/><rect x="54.6" y="498.77" width="92.0" height="5.0" rx="2.5" fill="#fa829a"/><rect x="63.40" y="498.77" width="2.40" height="5.0" fill="#9c6cee"/><rect x="81.80" y="498.77" width="2.00" height="5.0" fill="#9c6cee"/><rect x="84.80" y="498.77" width="4.40" height="5.0" fill="#9c6cee"/><rect x="101.80" y="498.77" width="4.80" height="5.0" fill="#9c6cee"/><rect x="116.80" y="498.77" width="2.40" height="5.0" fill="#9c6cee"/><rect x="119.80" y="498.77" width="2.40" height="5.0" fill="#9c6cee"/><rect x="122.80" y="498.77" width="1.80" height="5.0" fill="#9c6cee"/><rect x="54.6" y="505.82" width="92.0" height="5.0" rx="2.5" fill="#8ae1f6"/><rect x="54.80" y="505.82" width="1.80" height="5.0" fill="#4e5c60"/><rect x="67.80" y="505.82" width="6.40" height="5.0" fill="#6a5058"/><rect x="74.80" y="505.82" width="1.80" height="5.0" fill="#4e5c60"/><rect x="77.80" y="505.82" width="2.00" height="5.0" fill="#4e5c60"/><rect x="83.40" y="505.82" width="3.20" height="5.0" fill="#4e5c60"/><rect x="93.40" y="505.82" width="1.80" height="5.0" fill="#4e5c60"/><rect x="96.80" y="505.82" width="3.80" height="5.0" fill="#6a5058"/><rect x="109.80" y="505.82" width="2.00" height="5.0" fill="#4e5c60"/><rect x="143.80" y="505.82" width="3.40" height="5.0" fill="#4e5c60"/><text transform="translate(399.1,119.3) scale(0.93,1)" class="title">Average LD</text><rect x="396" y="123.9" width="138.3" height="190.4" fill="none" stroke="#262626" stroke-width="1.3"/><line x1="393.2" x2="396" y1="132.0" y2="132.0" stroke="#444" stroke-width="0.9"/><text x="391.2" y="138.0" class="tick" text-anchor="end">0.85</text><line x1="393.2" x2="396" y1="157.0" y2="157.0" stroke="#444" stroke-width="0.9"/><text x="391.2" y="163.0" class="tick" text-anchor="end">0.75</text><line x1="393.2" x2="396" y1="182.0" y2="182.0" stroke="#444" stroke-width="0.9"/><text x="391.2" y="188.0" class="tick" text-anchor="end">0.65</text><line x1="393.2" x2="396" y1="207.0" y2="207.0" stroke="#444" stroke-width="0.9"/><text x="391.2" y="213.0" class="tick" text-anchor="end">0.55</text><line x1="393.2" x2="396" y1="232.0" y2="232.0" stroke="#444" stroke-width="0.9"/><text x="391.2" y="238.0" class="tick" text-anchor="end">0.45</text><line x1="393.2" x2="396" y1="257.0" y2="257.0" stroke="#444" stroke-width="0.9"/><text x="391.2" y="263.0" class="tick" text-anchor="end">0.35</text><line x1="393.2" x2="396" y1="282.0" y2="282.0" stroke="#444" stroke-width="0.9"/><text x="391.2" y="288.0" class="tick" text-anchor="end">0.25</text><line x1="393.2" x2="396" y1="307.0" y2="307.0" stroke="#444" stroke-width="0.9"/><text x="391.2" y="313.0" class="tick" text-anchor="end">0.15</text><line x1="397.6" x2="534" y1="144.5" y2="144.5" stroke="#7a7a7a" stroke-width="1.2" stroke-dasharray="1.4,1.9"/><text x="401.0" y="136.0" class="vl">0.8</text><line x1="397.6" x2="534" y1="219.5" y2="219.5" stroke="#7a7a7a" stroke-width="1.2" stroke-dasharray="1.4,1.9"/><text x="401.7" y="211.4" class="vl">0.5</text><line x1="397.6" x2="534" y1="294.5" y2="294.5" stroke="#7a7a7a" stroke-width="1.2" stroke-dasharray="1.4,1.9"/><text x="399.9" y="282.7" class="vl">0.2</text><rect x="405" y="291" width="33.6" height="6.4" fill="#a8ecf8" stroke="#7ad8ec" stroke-width="0.8"/><line x1="405" x2="438.6" y1="294.3" y2="294.3" stroke="#5cc0d8" stroke-width="1" stroke-dasharray="1.2,1.6"/><g stroke="#38b8cc" stroke-width="1.1"><line x1="421.4" x2="421.4" y1="283.5" y2="306.4"/><line x1="415" x2="427.8" y1="283.5" y2="283.5"/><line x1="415" x2="427.8" y1="306.4" y2="306.4"/></g><rect x="448.9" y="216.5" width="33.2" height="3.4" fill="#f0849a" stroke="#d8406a" stroke-width="0.9"/><line x1="448.9" x2="482.1" y1="219.2" y2="219.2" stroke="#b83050" stroke-width="0.9" stroke-dasharray="1.4,1.9"/><g stroke="#d83a64" stroke-width="1.1"><line x1="465.3" x2="465.3" y1="212.1" y2="224.1"/><line x1="458.6" x2="471.8" y1="212.1" y2="212.1"/><line x1="458.6" x2="471.8" y1="224.1" y2="224.1"/></g><rect x="492.3" y="142.9" width="33.6" height="2.6" fill="#78ee5c" stroke="#5ee63e" stroke-width="0.6"/><line x1="492.3" x2="525.9" y1="144.5" y2="144.5" stroke="#40c828" stroke-width="0.9" stroke-dasharray="1.4,1.9"/><g stroke="#4ee030" stroke-width="1"><line x1="508.6" x2="508.6" y1="141.4" y2="147.3"/><line x1="502.3" x2="515" y1="141.4" y2="141.4"/><line x1="502.3" x2="515" y1="147.3" y2="147.3"/></g><rect x="394.8" y="459.8" width="13.2" height="13" rx="3" fill="#88dcf4" stroke="#4e7480" stroke-width="1.4"/><text transform="translate(414.6,471.50) scale(0.9,1)" class="leg">Genetic Correlation = 0.2</text><rect x="394.8" y="478.7" width="13.2" height="13" rx="3" fill="#f7849c" stroke="#80505a" stroke-width="1.4"/><text transform="translate(414.6,490.10) scale(0.9,1)" class="leg">Genetic Correlation = 0.5</text><rect x="394.8" y="497.6" width="13.2" height="13" rx="3" fill="#8cf676" stroke="#4e7a48" stroke-width="1.4"/><text transform="translate(414.6,508.70) scale(0.9,1)" class="leg">Genetic Correlation = 0.8</text></g></svg>
</body></html>
